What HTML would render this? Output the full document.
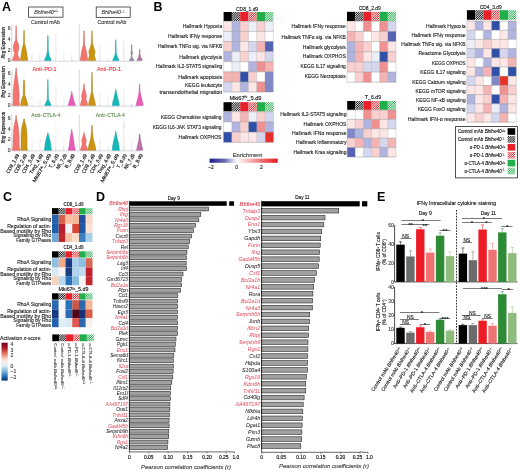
<!DOCTYPE html>
<html><head><meta charset="utf-8"><title>Figure</title>
<style>html,body{margin:0;padding:0;background:#fff;width:520px;height:471px;overflow:hidden}svg{display:block}</style>
</head><body>
<svg width="520" height="471" viewBox="0 0 520 471" font-family="'Liberation Sans', Arial, sans-serif">
<defs>
<pattern id="hk" patternUnits="userSpaceOnUse" width="1.55" height="1.55" patternTransform="rotate(45)"><rect width="1.55" height="1.55" fill="#fff"/><rect width="0.85" height="1.55" fill="#111"/></pattern>
<pattern id="hr" patternUnits="userSpaceOnUse" width="1.55" height="1.55" patternTransform="rotate(45)"><rect width="1.55" height="1.55" fill="#fff"/><rect width="0.8" height="1.55" fill="#e8202a"/></pattern>
<pattern id="hg" patternUnits="userSpaceOnUse" width="1.55" height="1.55" patternTransform="rotate(45)"><rect width="1.55" height="1.55" fill="#fff"/><rect width="0.8" height="1.55" fill="#1fae4a"/></pattern>
<linearGradient id="enr" x1="0" x2="1" y1="0" y2="0">
<stop offset="0" stop-color="#1c1c86"/><stop offset="0.22" stop-color="#6a6ab4"/><stop offset="0.4" stop-color="#ffffff"/><stop offset="0.7" stop-color="#f08a8a"/><stop offset="1" stop-color="#e3191c"/></linearGradient>
<linearGradient id="zsc" x1="0" x2="0" y1="0" y2="1">
<stop offset="0" stop-color="#67001f"/><stop offset="0.14" stop-color="#b2182b"/><stop offset="0.3" stop-color="#e58267"/><stop offset="0.45" stop-color="#fbe3d6"/><stop offset="0.6" stop-color="#e3eef5"/><stop offset="0.78" stop-color="#6aa9d0"/><stop offset="0.9" stop-color="#2369ad"/><stop offset="1" stop-color="#053061"/></linearGradient>
</defs>
<rect width="520" height="471" fill="#fff"/>
<text x="1.90" y="11.00" font-size="12.5" fill="#000" font-weight="bold">A</text>
<rect x="28.60" y="7.00" width="34.40" height="10.20" fill="#fff" stroke="#333" stroke-width="0.8"/>
<text x="46.20" y="13.89" font-size="4.7" text-anchor="middle" fill="#333" textLength="23.80" lengthAdjust="spacingAndGlyphs" stroke="#333" stroke-width="0.06"><tspan font-style="italic">Bhlhe40</tspan><tspan font-size="2.6" dy="-1.5">+/+</tspan></text>
<rect x="96.20" y="7.00" width="34.00" height="10.40" fill="#fff" stroke="#333" stroke-width="0.8"/>
<text x="113.40" y="14.09" font-size="4.7" text-anchor="middle" fill="#333" textLength="23.80" lengthAdjust="spacingAndGlyphs" stroke="#333" stroke-width="0.06"><tspan font-style="italic">Bhlhe40</tspan><tspan font-size="2.6" dy="-1.5">&#8722;/&#8722;</tspan></text>
<line x1="11.80" y1="24.60" x2="11.80" y2="61.20" stroke="#b0b0b0" stroke-width="0.5"/>
<line x1="79.30" y1="24.60" x2="79.30" y2="61.20" stroke="#b0b0b0" stroke-width="0.5"/>
<line x1="11.80" y1="61.20" x2="78.60" y2="61.20" stroke="#b8c0d0" stroke-width="0.6"/>
<line x1="79.30" y1="61.20" x2="140.00" y2="61.20" stroke="#b8c0d0" stroke-width="0.6"/>
<text x="10.60" y="62.40" font-size="5.0" text-anchor="end" fill="#333" stroke="#333" stroke-width="0.11">0</text>
<line x1="11.00" y1="60.60" x2="11.80" y2="60.60" stroke="#999" stroke-width="0.4"/>
<text x="10.60" y="51.70" font-size="5.0" text-anchor="end" fill="#333" stroke="#333" stroke-width="0.11">2</text>
<line x1="11.00" y1="49.90" x2="11.80" y2="49.90" stroke="#999" stroke-width="0.4"/>
<text x="10.60" y="41.00" font-size="5.0" text-anchor="end" fill="#333" stroke="#333" stroke-width="0.11">4</text>
<line x1="11.00" y1="39.20" x2="11.80" y2="39.20" stroke="#999" stroke-width="0.4"/>
<text x="10.60" y="30.30" font-size="5.0" text-anchor="end" fill="#333" stroke="#333" stroke-width="0.11">6</text>
<line x1="11.00" y1="28.50" x2="11.80" y2="28.50" stroke="#999" stroke-width="0.4"/>
<text x="45.50" y="23.99" font-size="4.7" text-anchor="middle" fill="#333" textLength="29.00" lengthAdjust="spacingAndGlyphs" stroke="#333" stroke-width="0.11">Control mAb</text>
<text x="112.00" y="23.99" font-size="4.7" text-anchor="middle" fill="#333" textLength="29.00" lengthAdjust="spacingAndGlyphs" stroke="#333" stroke-width="0.11">Control mAb</text>
<text x="3.10" y="44.46" font-size="4.9" text-anchor="middle" textLength="31.50" lengthAdjust="spacingAndGlyphs" transform="rotate(-90 3.10 42.70)" stroke="#222" stroke-width="0.16"><tspan font-style="italic">Ifng</tspan> Expression</text>
<line x1="11.80" y1="69.60" x2="11.80" y2="106.20" stroke="#b0b0b0" stroke-width="0.5"/>
<line x1="79.30" y1="69.60" x2="79.30" y2="106.20" stroke="#b0b0b0" stroke-width="0.5"/>
<line x1="11.80" y1="106.20" x2="78.60" y2="106.20" stroke="#b8c0d0" stroke-width="0.6"/>
<line x1="79.30" y1="106.20" x2="140.00" y2="106.20" stroke="#b8c0d0" stroke-width="0.6"/>
<text x="10.60" y="107.40" font-size="5.0" text-anchor="end" fill="#333" stroke="#333" stroke-width="0.11">0</text>
<line x1="11.00" y1="105.60" x2="11.80" y2="105.60" stroke="#999" stroke-width="0.4"/>
<text x="10.60" y="96.70" font-size="5.0" text-anchor="end" fill="#333" stroke="#333" stroke-width="0.11">2</text>
<line x1="11.00" y1="94.90" x2="11.80" y2="94.90" stroke="#999" stroke-width="0.4"/>
<text x="10.60" y="86.00" font-size="5.0" text-anchor="end" fill="#333" stroke="#333" stroke-width="0.11">4</text>
<line x1="11.00" y1="84.20" x2="11.80" y2="84.20" stroke="#999" stroke-width="0.4"/>
<text x="10.60" y="75.30" font-size="5.0" text-anchor="end" fill="#333" stroke="#333" stroke-width="0.11">6</text>
<line x1="11.00" y1="73.50" x2="11.80" y2="73.50" stroke="#999" stroke-width="0.4"/>
<text x="44.50" y="70.79" font-size="4.7" text-anchor="middle" fill="#e8303a" textLength="24.00" lengthAdjust="spacingAndGlyphs" stroke="#e8303a" stroke-width="0.11">Anti&#8211;PD-1</text>
<text x="109.00" y="70.79" font-size="4.7" text-anchor="middle" fill="#e8303a" textLength="24.00" lengthAdjust="spacingAndGlyphs" stroke="#e8303a" stroke-width="0.11">Anti&#8211;PD-1</text>
<text x="3.10" y="83.76" font-size="4.9" text-anchor="middle" textLength="31.50" lengthAdjust="spacingAndGlyphs" transform="rotate(-90 3.10 82.00)" stroke="#222" stroke-width="0.16"><tspan font-style="italic">Ifng</tspan> Expression</text>
<line x1="11.80" y1="114.30" x2="11.80" y2="150.90" stroke="#b0b0b0" stroke-width="0.5"/>
<line x1="79.30" y1="114.30" x2="79.30" y2="150.90" stroke="#b0b0b0" stroke-width="0.5"/>
<line x1="11.80" y1="150.90" x2="78.60" y2="150.90" stroke="#b8c0d0" stroke-width="0.6"/>
<line x1="79.30" y1="150.90" x2="140.00" y2="150.90" stroke="#b8c0d0" stroke-width="0.6"/>
<text x="10.60" y="152.10" font-size="5.0" text-anchor="end" fill="#333" stroke="#333" stroke-width="0.11">0</text>
<line x1="11.00" y1="150.30" x2="11.80" y2="150.30" stroke="#999" stroke-width="0.4"/>
<text x="10.60" y="141.40" font-size="5.0" text-anchor="end" fill="#333" stroke="#333" stroke-width="0.11">2</text>
<line x1="11.00" y1="139.60" x2="11.80" y2="139.60" stroke="#999" stroke-width="0.4"/>
<text x="10.60" y="130.70" font-size="5.0" text-anchor="end" fill="#333" stroke="#333" stroke-width="0.11">4</text>
<line x1="11.00" y1="128.90" x2="11.80" y2="128.90" stroke="#999" stroke-width="0.4"/>
<text x="10.60" y="120.00" font-size="5.0" text-anchor="end" fill="#333" stroke="#333" stroke-width="0.11">6</text>
<line x1="11.00" y1="118.20" x2="11.80" y2="118.20" stroke="#999" stroke-width="0.4"/>
<text x="45.80" y="116.89" font-size="4.7" text-anchor="middle" fill="#5c8c48" textLength="29.00" lengthAdjust="spacingAndGlyphs" stroke="#5c8c48" stroke-width="0.11">Anti&#8211;CTLA-4</text>
<text x="110.30" y="116.89" font-size="4.7" text-anchor="middle" fill="#5c8c48" textLength="29.00" lengthAdjust="spacingAndGlyphs" stroke="#5c8c48" stroke-width="0.11">Anti&#8211;CTLA-4</text>
<text x="3.10" y="129.26" font-size="4.9" text-anchor="middle" textLength="31.50" lengthAdjust="spacingAndGlyphs" transform="rotate(-90 3.10 127.50)" stroke="#222" stroke-width="0.16"><tspan font-style="italic">Ifng</tspan> Expression</text>
<path d="M16.25,25.80 L16.40,30.00 L16.55,40.00 L17.60,42.00 L18.60,45.00 L18.90,48.00 L18.30,51.00 L17.50,53.50 L18.10,56.00 L19.30,58.00 L19.70,60.60 L12.50,60.60 L12.90,58.00 L14.10,56.00 L14.70,53.50 L13.90,51.00 L13.30,48.00 L13.60,45.00 L14.60,42.00 L15.65,40.00 L15.80,30.00 L15.95,25.80Z" fill="#f47470" stroke="#d0453d" stroke-width="0.4" stroke-linejoin="round"/>
<path d="M24.25,30.20 L24.45,35.00 L24.65,44.00 L25.25,46.00 L26.05,49.00 L26.55,52.00 L27.05,56.00 L27.65,59.00 L27.65,60.60 L20.45,60.60 L20.45,59.00 L21.05,56.00 L21.55,52.00 L22.05,49.00 L22.85,46.00 L23.45,44.00 L23.65,35.00 L23.85,30.20Z" fill="#cc9410" stroke="#9c7200" stroke-width="0.4" stroke-linejoin="round"/>
<line x1="32.00" y1="54.18" x2="32.00" y2="60.60" stroke="#ecd8d8" stroke-width="0.5"/>
<line x1="31.40" y1="60.30" x2="32.60" y2="60.30" stroke="#ecd8d8" stroke-width="0.6"/>
<circle cx="31.58" cy="59.54" r="0.35" fill="#b8b8b8" opacity="0.7"/>
<circle cx="31.49" cy="57.37" r="0.35" fill="#b8b8b8" opacity="0.7"/>
<line x1="39.95" y1="52.04" x2="39.95" y2="60.60" stroke="#f0cccc" stroke-width="0.5"/>
<line x1="39.35" y1="60.30" x2="40.55" y2="60.30" stroke="#f0cccc" stroke-width="0.6"/>
<circle cx="39.79" cy="57.45" r="0.35" fill="#b8b8b8" opacity="0.7"/>
<circle cx="39.96" cy="60.51" r="0.35" fill="#b8b8b8" opacity="0.7"/>
<path d="M48.05,35.50 L48.20,40.00 L48.30,50.00 L48.70,53.00 L49.40,56.00 L50.40,58.00 L51.10,59.50 L51.10,60.60 L44.70,60.60 L44.70,59.50 L45.40,58.00 L46.40,56.00 L47.10,53.00 L47.50,50.00 L47.60,40.00 L47.75,35.50Z" fill="#14b8b8" stroke="#008f94" stroke-width="0.4" stroke-linejoin="round"/>
<line x1="55.85" y1="34.39" x2="55.85" y2="60.60" stroke="#f0d0d4" stroke-width="0.5"/>
<line x1="55.25" y1="60.30" x2="56.45" y2="60.30" stroke="#f0d0d4" stroke-width="0.6"/>
<circle cx="55.77" cy="60.46" r="0.35" fill="#b8b8b8" opacity="0.7"/>
<circle cx="55.36" cy="60.23" r="0.35" fill="#b8b8b8" opacity="0.7"/>
<circle cx="56.24" cy="53.94" r="0.35" fill="#b8b8b8" opacity="0.7"/>
<circle cx="55.52" cy="59.67" r="0.35" fill="#b8b8b8" opacity="0.7"/>
<circle cx="56.39" cy="48.16" r="0.35" fill="#b8b8b8" opacity="0.7"/>
<circle cx="55.73" cy="49.72" r="0.35" fill="#b8b8b8" opacity="0.7"/>
<circle cx="55.31" cy="35.37" r="0.35" fill="#b8b8b8" opacity="0.7"/>
<circle cx="55.60" cy="40.06" r="0.35" fill="#b8b8b8" opacity="0.7"/>
<line x1="63.80" y1="53.11" x2="63.80" y2="60.60" stroke="#e4d8e4" stroke-width="0.5"/>
<line x1="63.20" y1="60.30" x2="64.40" y2="60.30" stroke="#e4d8e4" stroke-width="0.6"/>
<circle cx="63.34" cy="60.26" r="0.35" fill="#b8b8b8" opacity="0.7"/>
<circle cx="64.18" cy="59.46" r="0.35" fill="#b8b8b8" opacity="0.7"/>
<line x1="71.75" y1="54.18" x2="71.75" y2="60.60" stroke="#f0c8e0" stroke-width="0.5"/>
<line x1="71.15" y1="60.30" x2="72.35" y2="60.30" stroke="#f0c8e0" stroke-width="0.6"/>
<circle cx="71.85" cy="60.18" r="0.35" fill="#b8b8b8" opacity="0.7"/>
<circle cx="71.60" cy="57.46" r="0.35" fill="#b8b8b8" opacity="0.7"/>
<path d="M84.20,30.90 L84.40,38.00 L84.60,44.80 L85.60,48.00 L86.40,52.00 L87.00,56.00 L87.60,59.00 L87.60,60.60 L80.40,60.60 L80.40,59.00 L81.00,56.00 L81.60,52.00 L82.40,48.00 L83.40,44.80 L83.60,38.00 L83.80,30.90Z" fill="#f47470" stroke="#d0453d" stroke-width="0.4" stroke-linejoin="round"/>
<path d="M92.15,30.90 L92.35,38.00 L92.65,44.00 L93.95,48.00 L95.15,52.00 L94.35,55.00 L95.15,58.00 L95.75,60.00 L95.75,60.60 L88.15,60.60 L88.15,60.00 L88.75,58.00 L89.55,55.00 L88.75,52.00 L89.95,48.00 L91.25,44.00 L91.55,38.00 L91.75,30.90Z" fill="#cc9410" stroke="#9c7200" stroke-width="0.4" stroke-linejoin="round"/>
<line x1="99.90" y1="44.55" x2="99.90" y2="60.60" stroke="#d8d8d8" stroke-width="0.5"/>
<line x1="98.40" y1="60.30" x2="101.40" y2="60.30" stroke="#d8d8d8" stroke-width="0.6"/>
<circle cx="99.38" cy="54.47" r="0.35" fill="#b8b8b8" opacity="0.7"/>
<circle cx="99.55" cy="60.42" r="0.35" fill="#b8b8b8" opacity="0.7"/>
<circle cx="99.81" cy="51.93" r="0.35" fill="#b8b8b8" opacity="0.7"/>
<circle cx="100.00" cy="58.08" r="0.35" fill="#b8b8b8" opacity="0.7"/>
<circle cx="99.66" cy="56.08" r="0.35" fill="#b8b8b8" opacity="0.7"/>
<line x1="107.85" y1="57.93" x2="107.85" y2="60.60" stroke="#e0e0e0" stroke-width="0.5"/>
<line x1="106.35" y1="60.30" x2="109.35" y2="60.30" stroke="#e0e0e0" stroke-width="0.6"/>
<circle cx="108.09" cy="58.75" r="0.35" fill="#b8b8b8" opacity="0.7"/>
<circle cx="107.94" cy="60.32" r="0.35" fill="#b8b8b8" opacity="0.7"/>
<path d="M115.95,39.80 L116.10,46.00 L116.30,53.00 L117.00,56.00 L118.20,58.50 L119.00,60.60 L112.60,60.60 L113.40,58.50 L114.60,56.00 L115.30,53.00 L115.50,46.00 L115.65,39.80Z" fill="#14b8b8" stroke="#008f94" stroke-width="0.4" stroke-linejoin="round"/>
<line x1="123.75" y1="40.27" x2="123.75" y2="60.60" stroke="#f4b8b8" stroke-width="0.5"/>
<circle cx="124.20" cy="53.34" r="0.35" fill="#b8b8b8" opacity="0.7"/>
<circle cx="123.50" cy="48.33" r="0.35" fill="#b8b8b8" opacity="0.7"/>
<circle cx="123.29" cy="40.91" r="0.35" fill="#b8b8b8" opacity="0.7"/>
<circle cx="124.06" cy="55.56" r="0.35" fill="#b8b8b8" opacity="0.7"/>
<circle cx="123.74" cy="59.60" r="0.35" fill="#b8b8b8" opacity="0.7"/>
<circle cx="123.95" cy="60.49" r="0.35" fill="#b8b8b8" opacity="0.7"/>
<path d="M131.90,44.80 L132.00,51.00 L132.60,53.00 L132.00,55.00 L132.30,58.00 L133.70,59.50 L133.90,60.60 L129.50,60.60 L129.70,59.50 L131.10,58.00 L131.40,55.00 L130.80,53.00 L131.40,51.00 L131.50,44.80Z" fill="#9a88a8" stroke="#6a5a7a" stroke-width="0.4" stroke-linejoin="round"/>
<path d="M139.85,49.30 L140.05,54.00 L140.65,57.00 L142.05,59.50 L142.15,60.60 L137.15,60.60 L137.25,59.50 L138.65,57.00 L139.25,54.00 L139.45,49.30Z" fill="#b07aa0" stroke="#805070" stroke-width="0.4" stroke-linejoin="round"/>
<path d="M16.25,68.00 L16.60,72.00 L17.30,77.50 L18.10,83.00 L18.70,88.00 L19.10,95.00 L18.90,101.00 L19.40,104.40 L19.40,105.60 L12.80,105.60 L12.80,104.40 L13.30,101.00 L13.10,95.00 L13.50,88.00 L14.10,83.00 L14.90,77.50 L15.60,72.00 L15.95,68.00Z" fill="#f47470" stroke="#d0453d" stroke-width="0.4" stroke-linejoin="round"/>
<path d="M24.45,79.90 L24.75,85.00 L24.85,95.00 L25.65,97.00 L26.55,100.00 L27.55,104.00 L27.55,105.60 L20.55,105.60 L20.55,104.00 L21.55,100.00 L22.45,97.00 L23.25,95.00 L23.35,85.00 L23.65,79.90Z" fill="#cc9410" stroke="#9c7200" stroke-width="0.4" stroke-linejoin="round"/>
<line x1="32.00" y1="97.00" x2="32.00" y2="105.60" stroke="#ecdcd0" stroke-width="0.5"/>
<line x1="31.40" y1="105.30" x2="32.60" y2="105.30" stroke="#ecdcd0" stroke-width="0.6"/>
<circle cx="32.09" cy="100.00" r="0.35" fill="#b8b8b8" opacity="0.7"/>
<circle cx="31.78" cy="98.65" r="0.35" fill="#b8b8b8" opacity="0.7"/>
<line x1="39.95" y1="100.00" x2="39.95" y2="105.60" stroke="#f0d4d4" stroke-width="0.5"/>
<line x1="39.35" y1="105.30" x2="40.55" y2="105.30" stroke="#f0d4d4" stroke-width="0.6"/>
<circle cx="40.06" cy="102.47" r="0.35" fill="#b8b8b8" opacity="0.7"/>
<circle cx="39.90" cy="103.26" r="0.35" fill="#b8b8b8" opacity="0.7"/>
<path d="M48.05,79.50 L48.20,88.00 L48.40,99.00 L49.10,101.00 L50.10,103.00 L50.90,104.80 L50.90,105.60 L44.90,105.60 L44.90,104.80 L45.70,103.00 L46.70,101.00 L47.40,99.00 L47.60,88.00 L47.75,79.50Z" fill="#14b8b8" stroke="#008f94" stroke-width="0.4" stroke-linejoin="round"/>
<line x1="55.85" y1="86.20" x2="55.85" y2="105.60" stroke="#ecdcdc" stroke-width="0.5"/>
<line x1="55.25" y1="105.30" x2="56.45" y2="105.30" stroke="#ecdcdc" stroke-width="0.6"/>
<circle cx="56.38" cy="90.92" r="0.35" fill="#b8b8b8" opacity="0.7"/>
<circle cx="56.05" cy="99.72" r="0.35" fill="#b8b8b8" opacity="0.7"/>
<circle cx="56.09" cy="105.38" r="0.35" fill="#b8b8b8" opacity="0.7"/>
<circle cx="56.44" cy="95.93" r="0.35" fill="#b8b8b8" opacity="0.7"/>
<circle cx="55.59" cy="91.42" r="0.35" fill="#b8b8b8" opacity="0.7"/>
<circle cx="56.05" cy="101.37" r="0.35" fill="#b8b8b8" opacity="0.7"/>
<line x1="63.80" y1="98.30" x2="63.80" y2="105.60" stroke="#e8dce8" stroke-width="0.5"/>
<line x1="63.20" y1="105.30" x2="64.40" y2="105.30" stroke="#e8dce8" stroke-width="0.6"/>
<circle cx="63.75" cy="105.58" r="0.35" fill="#b8b8b8" opacity="0.7"/>
<circle cx="63.34" cy="105.18" r="0.35" fill="#b8b8b8" opacity="0.7"/>
<path d="M71.95,91.60 L72.25,94.00 L72.95,97.00 L73.75,100.00 L74.55,102.50 L75.25,104.80 L75.25,105.60 L68.25,105.60 L68.25,104.80 L68.95,102.50 L69.75,100.00 L70.55,97.00 L71.25,94.00 L71.55,91.60Z" fill="#e85cb4" stroke="#c83c9c" stroke-width="0.4" stroke-linejoin="round"/>
<path d="M84.20,83.70 L84.50,88.00 L85.50,92.00 L86.50,96.00 L85.80,99.00 L87.00,102.00 L87.50,104.80 L87.50,105.60 L80.50,105.60 L80.50,104.80 L81.00,102.00 L82.20,99.00 L81.50,96.00 L82.50,92.00 L83.50,88.00 L83.80,83.70Z" fill="#f47470" stroke="#d0453d" stroke-width="0.4" stroke-linejoin="round"/>
<path d="M92.15,72.20 L92.35,80.00 L92.55,92.00 L93.45,96.00 L94.45,100.00 L95.45,104.50 L95.45,105.60 L88.45,105.60 L88.45,104.50 L89.45,100.00 L90.45,96.00 L91.35,92.00 L91.55,80.00 L91.75,72.20Z" fill="#cc9410" stroke="#9c7200" stroke-width="0.4" stroke-linejoin="round"/>
<line x1="99.90" y1="93.20" x2="99.90" y2="105.60" stroke="#dcdcdc" stroke-width="0.5"/>
<line x1="98.70" y1="105.30" x2="101.10" y2="105.30" stroke="#dcdcdc" stroke-width="0.6"/>
<circle cx="100.22" cy="105.47" r="0.35" fill="#b8b8b8" opacity="0.7"/>
<circle cx="99.60" cy="105.13" r="0.35" fill="#b8b8b8" opacity="0.7"/>
<circle cx="100.35" cy="102.84" r="0.35" fill="#b8b8b8" opacity="0.7"/>
<circle cx="99.84" cy="105.38" r="0.35" fill="#b8b8b8" opacity="0.7"/>
<line x1="107.85" y1="96.40" x2="107.85" y2="105.60" stroke="#e4e4e4" stroke-width="0.5"/>
<line x1="106.65" y1="105.30" x2="109.05" y2="105.30" stroke="#e4e4e4" stroke-width="0.6"/>
<circle cx="108.31" cy="102.07" r="0.35" fill="#b8b8b8" opacity="0.7"/>
<circle cx="108.29" cy="98.91" r="0.35" fill="#b8b8b8" opacity="0.7"/>
<circle cx="107.75" cy="104.41" r="0.35" fill="#b8b8b8" opacity="0.7"/>
<path d="M116.00,89.40 L116.30,92.00 L117.00,95.00 L117.80,98.50 L118.80,102.00 L119.30,104.80 L119.30,105.60 L112.30,105.60 L112.30,104.80 L112.80,102.00 L113.80,98.50 L114.60,95.00 L115.30,92.00 L115.60,89.40Z" fill="#14b8b8" stroke="#008f94" stroke-width="0.4" stroke-linejoin="round"/>
<line x1="123.75" y1="90.00" x2="123.75" y2="105.60" stroke="#e4d8d8" stroke-width="0.5"/>
<line x1="122.95" y1="105.30" x2="124.55" y2="105.30" stroke="#e4d8d8" stroke-width="0.6"/>
<circle cx="124.21" cy="102.57" r="0.35" fill="#b8b8b8" opacity="0.7"/>
<circle cx="123.33" cy="91.04" r="0.35" fill="#b8b8b8" opacity="0.7"/>
<circle cx="123.43" cy="104.63" r="0.35" fill="#b8b8b8" opacity="0.7"/>
<circle cx="123.73" cy="104.08" r="0.35" fill="#b8b8b8" opacity="0.7"/>
<circle cx="123.47" cy="98.91" r="0.35" fill="#b8b8b8" opacity="0.7"/>
<line x1="131.70" y1="103.46" x2="131.70" y2="105.60" stroke="#e0d0e0" stroke-width="0.5"/>
<line x1="130.50" y1="105.30" x2="132.90" y2="105.30" stroke="#e0d0e0" stroke-width="0.6"/>
<circle cx="131.60" cy="105.60" r="0.35" fill="#b8b8b8" opacity="0.7"/>
<circle cx="131.78" cy="105.17" r="0.35" fill="#b8b8b8" opacity="0.7"/>
<path d="M139.85,84.30 L140.15,92.00 L141.05,96.00 L142.05,100.00 L143.15,104.80 L143.15,105.60 L136.15,105.60 L136.15,104.80 L137.25,100.00 L138.25,96.00 L139.15,92.00 L139.45,84.30Z" fill="#e85cb4" stroke="#c83c9c" stroke-width="0.4" stroke-linejoin="round"/>
<path d="M16.30,115.40 L16.55,118.50 L17.30,122.00 L18.10,126.00 L18.70,131.00 L19.10,140.00 L19.10,145.00 L19.60,149.00 L19.60,150.30 L12.60,150.30 L12.60,149.00 L13.10,145.00 L13.10,140.00 L13.50,131.00 L14.10,126.00 L14.90,122.00 L15.65,118.50 L15.90,115.40Z" fill="#f47470" stroke="#d0453d" stroke-width="0.4" stroke-linejoin="round"/>
<path d="M24.30,118.80 L24.65,121.00 L25.55,124.00 L26.45,128.00 L27.05,135.00 L27.05,148.00 L27.55,149.50 L27.55,150.30 L20.55,150.30 L20.55,149.50 L21.05,148.00 L21.05,135.00 L21.65,128.00 L22.55,124.00 L23.45,121.00 L23.80,118.80Z" fill="#cc9410" stroke="#9c7200" stroke-width="0.4" stroke-linejoin="round"/>
<line x1="32.00" y1="139.00" x2="32.00" y2="150.30" stroke="#d8e4ec" stroke-width="0.5"/>
<line x1="31.40" y1="150.00" x2="32.60" y2="150.00" stroke="#d8e4ec" stroke-width="0.6"/>
<circle cx="32.23" cy="139.84" r="0.35" fill="#b8b8b8" opacity="0.7"/>
<circle cx="32.14" cy="146.39" r="0.35" fill="#b8b8b8" opacity="0.7"/>
<circle cx="31.46" cy="144.26" r="0.35" fill="#b8b8b8" opacity="0.7"/>
<line x1="39.95" y1="139.00" x2="39.95" y2="150.30" stroke="#f0d8d0" stroke-width="0.5"/>
<line x1="39.35" y1="150.00" x2="40.55" y2="150.00" stroke="#f0d8d0" stroke-width="0.6"/>
<circle cx="40.29" cy="140.76" r="0.35" fill="#b8b8b8" opacity="0.7"/>
<circle cx="40.31" cy="141.18" r="0.35" fill="#b8b8b8" opacity="0.7"/>
<circle cx="39.83" cy="147.77" r="0.35" fill="#b8b8b8" opacity="0.7"/>
<path d="M48.10,132.90 L48.50,135.00 L49.40,138.00 L50.40,142.00 L50.90,146.00 L51.40,149.50 L51.40,150.30 L44.40,150.30 L44.40,149.50 L44.90,146.00 L45.40,142.00 L46.40,138.00 L47.30,135.00 L47.70,132.90Z" fill="#14b8b8" stroke="#008f94" stroke-width="0.4" stroke-linejoin="round"/>
<line x1="55.85" y1="122.00" x2="55.85" y2="150.30" stroke="#e8e0e0" stroke-width="0.5"/>
<line x1="55.25" y1="150.00" x2="56.45" y2="150.00" stroke="#e8e0e0" stroke-width="0.6"/>
<circle cx="56.01" cy="149.55" r="0.35" fill="#b8b8b8" opacity="0.7"/>
<circle cx="55.33" cy="149.97" r="0.35" fill="#b8b8b8" opacity="0.7"/>
<circle cx="55.44" cy="147.99" r="0.35" fill="#b8b8b8" opacity="0.7"/>
<circle cx="55.31" cy="145.26" r="0.35" fill="#b8b8b8" opacity="0.7"/>
<circle cx="55.43" cy="150.30" r="0.35" fill="#b8b8b8" opacity="0.7"/>
<circle cx="55.69" cy="149.57" r="0.35" fill="#b8b8b8" opacity="0.7"/>
<circle cx="56.30" cy="150.22" r="0.35" fill="#b8b8b8" opacity="0.7"/>
<circle cx="55.43" cy="137.33" r="0.35" fill="#b8b8b8" opacity="0.7"/>
<circle cx="55.67" cy="147.18" r="0.35" fill="#b8b8b8" opacity="0.7"/>
<line x1="63.80" y1="138.00" x2="63.80" y2="150.30" stroke="#e8dce8" stroke-width="0.5"/>
<line x1="63.20" y1="150.00" x2="64.40" y2="150.00" stroke="#e8dce8" stroke-width="0.6"/>
<circle cx="63.35" cy="147.86" r="0.35" fill="#b8b8b8" opacity="0.7"/>
<circle cx="64.39" cy="140.84" r="0.35" fill="#b8b8b8" opacity="0.7"/>
<circle cx="63.78" cy="146.68" r="0.35" fill="#b8b8b8" opacity="0.7"/>
<circle cx="63.32" cy="150.06" r="0.35" fill="#b8b8b8" opacity="0.7"/>
<path d="M71.95,129.50 L72.25,132.00 L72.95,136.00 L73.75,141.00 L74.35,146.00 L75.25,149.50 L75.25,150.30 L68.25,150.30 L68.25,149.50 L69.15,146.00 L69.75,141.00 L70.55,136.00 L71.25,132.00 L71.55,129.50Z" fill="#e85cb4" stroke="#c83c9c" stroke-width="0.4" stroke-linejoin="round"/>
<path d="M84.20,132.70 L84.60,135.00 L85.60,138.00 L86.40,140.50 L85.60,144.00 L86.60,147.00 L87.60,149.50 L87.60,150.30 L80.40,150.30 L80.40,149.50 L81.40,147.00 L82.40,144.00 L81.60,140.50 L82.40,138.00 L83.40,135.00 L83.80,132.70Z" fill="#f47470" stroke="#d0453d" stroke-width="0.4" stroke-linejoin="round"/>
<path d="M92.15,125.10 L92.55,132.00 L93.15,138.00 L94.15,142.00 L94.95,145.00 L95.95,149.50 L95.95,150.30 L87.95,150.30 L87.95,149.50 L88.95,145.00 L89.75,142.00 L90.75,138.00 L91.35,132.00 L91.75,125.10Z" fill="#cc9410" stroke="#9c7200" stroke-width="0.4" stroke-linejoin="round"/>
<line x1="99.90" y1="137.80" x2="99.90" y2="150.30" stroke="#dcdcdc" stroke-width="0.5"/>
<line x1="98.70" y1="150.00" x2="101.10" y2="150.00" stroke="#dcdcdc" stroke-width="0.6"/>
<circle cx="99.62" cy="148.05" r="0.35" fill="#b8b8b8" opacity="0.7"/>
<circle cx="99.49" cy="141.04" r="0.35" fill="#b8b8b8" opacity="0.7"/>
<circle cx="100.44" cy="150.27" r="0.35" fill="#b8b8b8" opacity="0.7"/>
<circle cx="99.48" cy="145.80" r="0.35" fill="#b8b8b8" opacity="0.7"/>
<line x1="107.85" y1="147.09" x2="107.85" y2="150.30" stroke="#e0e0e0" stroke-width="0.5"/>
<line x1="106.65" y1="150.00" x2="109.05" y2="150.00" stroke="#e0e0e0" stroke-width="0.6"/>
<circle cx="107.28" cy="149.09" r="0.35" fill="#b8b8b8" opacity="0.7"/>
<circle cx="108.42" cy="149.14" r="0.35" fill="#b8b8b8" opacity="0.7"/>
<path d="M116.00,131.50 L116.30,134.00 L116.90,137.00 L118.00,141.00 L119.00,146.00 L119.30,149.50 L119.30,150.30 L112.30,150.30 L112.30,149.50 L112.60,146.00 L113.60,141.00 L114.70,137.00 L115.30,134.00 L115.60,131.50Z" fill="#14b8b8" stroke="#008f94" stroke-width="0.4" stroke-linejoin="round"/>
<line x1="123.75" y1="118.80" x2="123.75" y2="150.30" stroke="#f0c8c8" stroke-width="0.5"/>
<line x1="122.95" y1="150.00" x2="124.55" y2="150.00" stroke="#f0c8c8" stroke-width="0.6"/>
<circle cx="123.99" cy="125.40" r="0.35" fill="#b8b8b8" opacity="0.7"/>
<circle cx="123.59" cy="146.63" r="0.35" fill="#b8b8b8" opacity="0.7"/>
<circle cx="124.08" cy="148.50" r="0.35" fill="#b8b8b8" opacity="0.7"/>
<circle cx="124.08" cy="138.80" r="0.35" fill="#b8b8b8" opacity="0.7"/>
<circle cx="123.42" cy="144.96" r="0.35" fill="#b8b8b8" opacity="0.7"/>
<circle cx="124.33" cy="127.75" r="0.35" fill="#b8b8b8" opacity="0.7"/>
<circle cx="124.12" cy="125.89" r="0.35" fill="#b8b8b8" opacity="0.7"/>
<circle cx="124.04" cy="127.44" r="0.35" fill="#b8b8b8" opacity="0.7"/>
<circle cx="123.77" cy="147.37" r="0.35" fill="#b8b8b8" opacity="0.7"/>
<circle cx="123.18" cy="144.28" r="0.35" fill="#b8b8b8" opacity="0.7"/>
<line x1="131.70" y1="141.00" x2="131.70" y2="150.30" stroke="#e0d0e0" stroke-width="0.5"/>
<line x1="130.70" y1="150.00" x2="132.70" y2="150.00" stroke="#e0d0e0" stroke-width="0.6"/>
<circle cx="131.44" cy="150.27" r="0.35" fill="#b8b8b8" opacity="0.7"/>
<circle cx="131.93" cy="149.23" r="0.35" fill="#b8b8b8" opacity="0.7"/>
<circle cx="131.64" cy="141.64" r="0.35" fill="#b8b8b8" opacity="0.7"/>
<path d="M139.85,134.00 L140.45,140.00 L141.65,145.00 L142.65,149.50 L142.65,150.30 L136.65,150.30 L136.65,149.50 L137.65,145.00 L138.85,140.00 L139.45,134.00Z" fill="#c070a8" stroke="#904070" stroke-width="0.4" stroke-linejoin="round"/>
<text x="17.90" y="156.00" font-size="5.0" text-anchor="end" textLength="21.50" lengthAdjust="spacingAndGlyphs" transform="rotate(-60 17.90 154.20)" stroke="#222" stroke-width="0.14">CD8_1.d9</text>
<text x="25.85" y="156.00" font-size="5.0" text-anchor="end" textLength="21.50" lengthAdjust="spacingAndGlyphs" transform="rotate(-60 25.85 154.20)" stroke="#222" stroke-width="0.14">CD8_2.d9</text>
<text x="33.80" y="156.00" font-size="5.0" text-anchor="end" textLength="21.50" lengthAdjust="spacingAndGlyphs" transform="rotate(-60 33.80 154.20)" stroke="#222" stroke-width="0.14">CD4_3.d9</text>
<text x="41.75" y="156.00" font-size="5.0" text-anchor="end" textLength="22.00" lengthAdjust="spacingAndGlyphs" transform="rotate(-60 41.75 154.20)" stroke="#222" stroke-width="0.14">Treg_4.d9</text>
<text x="49.70" y="156.00" font-size="5.0" text-anchor="end" textLength="32.00" lengthAdjust="spacingAndGlyphs" transform="rotate(-60 49.70 154.20)" stroke="#222" stroke-width="0.14">Mki67<tspan font-size="2.8" dy="-1.3">hi</tspan><tspan dy="1.3">_5.d9</tspan></text>
<text x="57.65" y="156.00" font-size="5.0" text-anchor="end" textLength="15.50" lengthAdjust="spacingAndGlyphs" transform="rotate(-60 57.65 154.20)" stroke="#222" stroke-width="0.14">T_6.d9</text>
<text x="65.60" y="156.00" font-size="5.0" text-anchor="end" textLength="17.00" lengthAdjust="spacingAndGlyphs" transform="rotate(-60 65.60 154.20)" stroke="#222" stroke-width="0.14">NK_7.d9</text>
<text x="73.55" y="156.00" font-size="5.0" text-anchor="end" textLength="15.50" lengthAdjust="spacingAndGlyphs" transform="rotate(-60 73.55 154.20)" stroke="#222" stroke-width="0.14">B_8.d9</text>
<text x="85.80" y="156.00" font-size="5.0" text-anchor="end" textLength="21.50" lengthAdjust="spacingAndGlyphs" transform="rotate(-60 85.80 154.20)" stroke="#222" stroke-width="0.14">CD8_1.d9</text>
<text x="93.75" y="156.00" font-size="5.0" text-anchor="end" textLength="21.50" lengthAdjust="spacingAndGlyphs" transform="rotate(-60 93.75 154.20)" stroke="#222" stroke-width="0.14">CD8_2.d9</text>
<text x="101.70" y="156.00" font-size="5.0" text-anchor="end" textLength="21.50" lengthAdjust="spacingAndGlyphs" transform="rotate(-60 101.70 154.20)" stroke="#222" stroke-width="0.14">CD4_3.d9</text>
<text x="109.65" y="156.00" font-size="5.0" text-anchor="end" textLength="22.00" lengthAdjust="spacingAndGlyphs" transform="rotate(-60 109.65 154.20)" stroke="#222" stroke-width="0.14">Treg_4.d9</text>
<text x="117.60" y="156.00" font-size="5.0" text-anchor="end" textLength="32.00" lengthAdjust="spacingAndGlyphs" transform="rotate(-60 117.60 154.20)" stroke="#222" stroke-width="0.14">Mki67<tspan font-size="2.8" dy="-1.3">hi</tspan><tspan dy="1.3">_5.d9</tspan></text>
<text x="125.55" y="156.00" font-size="5.0" text-anchor="end" textLength="15.50" lengthAdjust="spacingAndGlyphs" transform="rotate(-60 125.55 154.20)" stroke="#222" stroke-width="0.14">T_6.d9</text>
<text x="133.50" y="156.00" font-size="5.0" text-anchor="end" textLength="17.00" lengthAdjust="spacingAndGlyphs" transform="rotate(-60 133.50 154.20)" stroke="#222" stroke-width="0.14">NK_7.d9</text>
<text x="141.45" y="156.00" font-size="5.0" text-anchor="end" textLength="15.50" lengthAdjust="spacingAndGlyphs" transform="rotate(-60 141.45 154.20)" stroke="#222" stroke-width="0.14">B_8.d9</text>
<text x="153.60" y="10.80" font-size="12.5" fill="#000" font-weight="bold">B</text>
<text x="247.10" y="10.71" font-size="5.3" text-anchor="middle" textLength="22.00" lengthAdjust="spacingAndGlyphs" stroke="#222" stroke-width="0.11">CD8_1.d9</text>
<rect x="223.60" y="12.00" width="8.28" height="9.00" fill="#000"/>
<rect x="231.88" y="12.00" width="8.28" height="9.00" fill="url(#hk)"/>
<rect x="240.17" y="12.00" width="8.28" height="9.00" fill="#e8202a"/>
<rect x="248.45" y="12.00" width="8.28" height="9.00" fill="url(#hr)"/>
<rect x="256.73" y="12.00" width="8.28" height="9.00" fill="#1fae4a"/>
<rect x="265.02" y="12.00" width="8.28" height="9.00" fill="url(#hg)"/>
<rect x="223.60" y="21.30" width="8.28" height="10.10" fill="#fce6e6"/>
<rect x="231.88" y="21.30" width="8.28" height="10.10" fill="#b0b4de"/>
<rect x="240.17" y="21.30" width="8.28" height="10.10" fill="#f9d0d0"/>
<rect x="248.45" y="21.30" width="8.28" height="10.10" fill="#eceef8"/>
<rect x="256.73" y="21.30" width="8.28" height="10.10" fill="#f9d0d0"/>
<rect x="265.02" y="21.30" width="8.28" height="10.10" fill="#eceef8"/>
<rect x="223.60" y="31.40" width="8.28" height="10.10" fill="#eceef8"/>
<rect x="231.88" y="31.40" width="8.28" height="10.10" fill="#b0b4de"/>
<rect x="240.17" y="31.40" width="8.28" height="10.10" fill="#f9d0d0"/>
<rect x="248.45" y="31.40" width="8.28" height="10.10" fill="#ffffff"/>
<rect x="256.73" y="31.40" width="8.28" height="10.10" fill="#fce6e6"/>
<rect x="265.02" y="31.40" width="8.28" height="10.10" fill="#ffffff"/>
<rect x="223.60" y="41.50" width="8.28" height="10.10" fill="#f9d0d0"/>
<rect x="231.88" y="41.50" width="8.28" height="10.10" fill="#b0b4de"/>
<rect x="240.17" y="41.50" width="8.28" height="10.10" fill="#fce6e6"/>
<rect x="248.45" y="41.50" width="8.28" height="10.10" fill="#d4d7ee"/>
<rect x="256.73" y="41.50" width="8.28" height="10.10" fill="#f5b4b4"/>
<rect x="265.02" y="41.50" width="8.28" height="10.10" fill="#5662b4"/>
<rect x="223.60" y="51.60" width="8.28" height="10.10" fill="#b0b4de"/>
<rect x="231.88" y="51.60" width="8.28" height="10.10" fill="#eceef8"/>
<rect x="240.17" y="51.60" width="8.28" height="10.10" fill="#f9d0d0"/>
<rect x="248.45" y="51.60" width="8.28" height="10.10" fill="#eceef8"/>
<rect x="256.73" y="51.60" width="8.28" height="10.10" fill="#fce6e6"/>
<rect x="265.02" y="51.60" width="8.28" height="10.10" fill="#d4d7ee"/>
<rect x="223.60" y="61.70" width="8.28" height="10.10" fill="#ffffff"/>
<rect x="231.88" y="61.70" width="8.28" height="10.10" fill="#eceef8"/>
<rect x="240.17" y="61.70" width="8.28" height="10.10" fill="#ffffff"/>
<rect x="248.45" y="61.70" width="8.28" height="10.10" fill="#b0b4de"/>
<rect x="256.73" y="61.70" width="8.28" height="10.10" fill="#f09090"/>
<rect x="265.02" y="61.70" width="8.28" height="10.10" fill="#f5b4b4"/>
<rect x="223.60" y="71.80" width="8.28" height="10.10" fill="#f5b4b4"/>
<rect x="231.88" y="71.80" width="8.28" height="10.10" fill="#f5b4b4"/>
<rect x="240.17" y="71.80" width="8.28" height="10.10" fill="#3050a8"/>
<rect x="248.45" y="71.80" width="8.28" height="10.10" fill="#f9d0d0"/>
<rect x="256.73" y="71.80" width="8.28" height="10.10" fill="#ffffff"/>
<rect x="265.02" y="71.80" width="8.28" height="10.10" fill="#8088c8"/>
<rect x="223.60" y="81.90" width="8.28" height="10.10" fill="#d4d7ee"/>
<rect x="231.88" y="81.90" width="8.28" height="10.10" fill="#fce6e6"/>
<rect x="240.17" y="81.90" width="8.28" height="10.10" fill="#b0b4de"/>
<rect x="248.45" y="81.90" width="8.28" height="10.10" fill="#fce6e6"/>
<rect x="256.73" y="81.90" width="8.28" height="10.10" fill="#f09090"/>
<rect x="265.02" y="81.90" width="8.28" height="10.10" fill="#8088c8"/>
<line x1="223.60" y1="21.30" x2="273.30" y2="21.30" stroke="#8a8a8a" stroke-width="0.45"/>
<line x1="223.60" y1="31.40" x2="273.30" y2="31.40" stroke="#8a8a8a" stroke-width="0.45"/>
<line x1="223.60" y1="41.50" x2="273.30" y2="41.50" stroke="#8a8a8a" stroke-width="0.45"/>
<line x1="223.60" y1="51.60" x2="273.30" y2="51.60" stroke="#8a8a8a" stroke-width="0.45"/>
<line x1="223.60" y1="61.70" x2="273.30" y2="61.70" stroke="#8a8a8a" stroke-width="0.45"/>
<line x1="223.60" y1="71.80" x2="273.30" y2="71.80" stroke="#8a8a8a" stroke-width="0.45"/>
<line x1="223.60" y1="81.90" x2="273.30" y2="81.90" stroke="#8a8a8a" stroke-width="0.45"/>
<line x1="223.60" y1="92.00" x2="273.30" y2="92.00" stroke="#8a8a8a" stroke-width="0.45"/>
<line x1="223.60" y1="21.30" x2="223.60" y2="92.00" stroke="#a0a0a0" stroke-width="0.35"/>
<line x1="231.88" y1="21.30" x2="231.88" y2="92.00" stroke="#a0a0a0" stroke-width="0.35"/>
<line x1="240.17" y1="21.30" x2="240.17" y2="92.00" stroke="#a0a0a0" stroke-width="0.35"/>
<line x1="248.45" y1="21.30" x2="248.45" y2="92.00" stroke="#a0a0a0" stroke-width="0.35"/>
<line x1="256.73" y1="21.30" x2="256.73" y2="92.00" stroke="#a0a0a0" stroke-width="0.35"/>
<line x1="265.02" y1="21.30" x2="265.02" y2="92.00" stroke="#a0a0a0" stroke-width="0.35"/>
<line x1="273.30" y1="21.30" x2="273.30" y2="92.00" stroke="#a0a0a0" stroke-width="0.35"/>
<text x="222.30" y="28.06" font-size="4.9" text-anchor="end" fill="#1a1a1a" textLength="39.57" lengthAdjust="spacingAndGlyphs" stroke="#1a1a1a" stroke-width="0.11">Hallmark Hypoxia</text>
<text x="222.30" y="37.96" font-size="4.9" text-anchor="end" fill="#1a1a1a" textLength="54.16" lengthAdjust="spacingAndGlyphs" stroke="#1a1a1a" stroke-width="0.11">Hallmark IFN&#947; response</text>
<text x="222.30" y="48.46" font-size="4.9" text-anchor="end" fill="#1a1a1a" textLength="64.26" lengthAdjust="spacingAndGlyphs" stroke="#1a1a1a" stroke-width="0.11">Hallmark TNF&#945; sig. via NFKB</text>
<text x="222.30" y="58.76" font-size="4.9" text-anchor="end" fill="#1a1a1a" textLength="42.93" lengthAdjust="spacingAndGlyphs" stroke="#1a1a1a" stroke-width="0.11">Hallmark glycolysis</text>
<text x="222.30" y="68.36" font-size="4.9" text-anchor="end" fill="#1a1a1a" textLength="66.32" lengthAdjust="spacingAndGlyphs" stroke="#1a1a1a" stroke-width="0.11">Hallmark IL2-STAT5 signaling</text>
<text x="222.30" y="79.36" font-size="4.9" text-anchor="end" fill="#1a1a1a" textLength="44.10" lengthAdjust="spacingAndGlyphs" stroke="#1a1a1a" stroke-width="0.11">Hallmark apoptosis</text>
<text x="222.30" y="86.76" font-size="4.9" text-anchor="end" fill="#1a1a1a" textLength="37.30" lengthAdjust="spacingAndGlyphs" stroke="#1a1a1a" stroke-width="0.11">KEGG leukocyte</text>
<text x="222.30" y="93.76" font-size="4.9" text-anchor="end" fill="#1a1a1a" textLength="62.80" lengthAdjust="spacingAndGlyphs" stroke="#1a1a1a" stroke-width="0.11">transendothelial migration</text>
<text x="245.50" y="99.51" font-size="5.3" text-anchor="middle" textLength="32.00" lengthAdjust="spacingAndGlyphs" stroke="#222" stroke-width="0.11">Mki67<tspan font-size="3.2" dy="-1.6">hi</tspan><tspan dy="1.6">_5.d9</tspan></text>
<rect x="223.50" y="102.20" width="8.35" height="9.20" fill="#000"/>
<rect x="231.85" y="102.20" width="8.35" height="9.20" fill="url(#hk)"/>
<rect x="240.20" y="102.20" width="8.35" height="9.20" fill="#e8202a"/>
<rect x="248.55" y="102.20" width="8.35" height="9.20" fill="url(#hr)"/>
<rect x="256.90" y="102.20" width="8.35" height="9.20" fill="#1fae4a"/>
<rect x="265.25" y="102.20" width="8.35" height="9.20" fill="url(#hg)"/>
<rect x="223.50" y="111.70" width="8.35" height="10.20" fill="#b0b4de"/>
<rect x="231.85" y="111.70" width="8.35" height="10.20" fill="#fce6e6"/>
<rect x="240.20" y="111.70" width="8.35" height="10.20" fill="#f5b4b4"/>
<rect x="248.55" y="111.70" width="8.35" height="10.20" fill="#eceef8"/>
<rect x="256.90" y="111.70" width="8.35" height="10.20" fill="#f9d0d0"/>
<rect x="265.25" y="111.70" width="8.35" height="10.20" fill="#d4d7ee"/>
<rect x="223.50" y="121.90" width="8.35" height="10.20" fill="#ffffff"/>
<rect x="231.85" y="121.90" width="8.35" height="10.20" fill="#b0b4de"/>
<rect x="240.20" y="121.90" width="8.35" height="10.20" fill="#f9d0d0"/>
<rect x="248.55" y="121.90" width="8.35" height="10.20" fill="#3050a8"/>
<rect x="256.90" y="121.90" width="8.35" height="10.20" fill="#f09090"/>
<rect x="265.25" y="121.90" width="8.35" height="10.20" fill="#b0b4de"/>
<rect x="223.50" y="132.10" width="8.35" height="10.20" fill="#3050a8"/>
<rect x="231.85" y="132.10" width="8.35" height="10.20" fill="#f9d0d0"/>
<rect x="240.20" y="132.10" width="8.35" height="10.20" fill="#fce6e6"/>
<rect x="248.55" y="132.10" width="8.35" height="10.20" fill="#fce6e6"/>
<rect x="256.90" y="132.10" width="8.35" height="10.20" fill="#d4d7ee"/>
<rect x="265.25" y="132.10" width="8.35" height="10.20" fill="#e8302a"/>
<line x1="223.50" y1="111.70" x2="273.60" y2="111.70" stroke="#8a8a8a" stroke-width="0.45"/>
<line x1="223.50" y1="121.90" x2="273.60" y2="121.90" stroke="#8a8a8a" stroke-width="0.45"/>
<line x1="223.50" y1="132.10" x2="273.60" y2="132.10" stroke="#8a8a8a" stroke-width="0.45"/>
<line x1="223.50" y1="142.30" x2="273.60" y2="142.30" stroke="#8a8a8a" stroke-width="0.45"/>
<line x1="223.50" y1="111.70" x2="223.50" y2="142.30" stroke="#a0a0a0" stroke-width="0.35"/>
<line x1="231.85" y1="111.70" x2="231.85" y2="142.30" stroke="#a0a0a0" stroke-width="0.35"/>
<line x1="240.20" y1="111.70" x2="240.20" y2="142.30" stroke="#a0a0a0" stroke-width="0.35"/>
<line x1="248.55" y1="111.70" x2="248.55" y2="142.30" stroke="#a0a0a0" stroke-width="0.35"/>
<line x1="256.90" y1="111.70" x2="256.90" y2="142.30" stroke="#a0a0a0" stroke-width="0.35"/>
<line x1="265.25" y1="111.70" x2="265.25" y2="142.30" stroke="#a0a0a0" stroke-width="0.35"/>
<line x1="273.60" y1="111.70" x2="273.60" y2="142.30" stroke="#a0a0a0" stroke-width="0.35"/>
<text x="221.50" y="118.76" font-size="4.9" text-anchor="end" fill="#1a1a1a" textLength="60.38" lengthAdjust="spacingAndGlyphs" stroke="#1a1a1a" stroke-width="0.11">KEGG Chemokine signaling</text>
<text x="221.50" y="128.76" font-size="4.9" text-anchor="end" fill="#1a1a1a" textLength="68.82" lengthAdjust="spacingAndGlyphs" stroke="#1a1a1a" stroke-width="0.11">KEGG IL6-JAK STAT3 signaling</text>
<text x="221.50" y="138.96" font-size="4.9" text-anchor="end" fill="#1a1a1a" textLength="42.93" lengthAdjust="spacingAndGlyphs" stroke="#1a1a1a" stroke-width="0.11">Hallmark OXPHOS</text>
<text x="369.80" y="10.41" font-size="5.3" text-anchor="middle" textLength="22.00" lengthAdjust="spacingAndGlyphs" stroke="#222" stroke-width="0.11">CD8_2.d9</text>
<rect x="347.00" y="11.80" width="8.17" height="9.20" fill="#000"/>
<rect x="355.17" y="11.80" width="8.17" height="9.20" fill="url(#hk)"/>
<rect x="363.33" y="11.80" width="8.17" height="9.20" fill="#e8202a"/>
<rect x="371.50" y="11.80" width="8.17" height="9.20" fill="url(#hr)"/>
<rect x="379.67" y="11.80" width="8.17" height="9.20" fill="#1fae4a"/>
<rect x="387.83" y="11.80" width="8.17" height="9.20" fill="url(#hg)"/>
<rect x="347.00" y="21.30" width="8.17" height="10.15" fill="#fce6e6"/>
<rect x="355.17" y="21.30" width="8.17" height="10.15" fill="#ffffff"/>
<rect x="363.33" y="21.30" width="8.17" height="10.15" fill="#f09090"/>
<rect x="371.50" y="21.30" width="8.17" height="10.15" fill="#ffffff"/>
<rect x="379.67" y="21.30" width="8.17" height="10.15" fill="#f09090"/>
<rect x="387.83" y="21.30" width="8.17" height="10.15" fill="#d4d7ee"/>
<rect x="347.00" y="31.45" width="8.17" height="10.15" fill="#f5b4b4"/>
<rect x="355.17" y="31.45" width="8.17" height="10.15" fill="#f9d0d0"/>
<rect x="363.33" y="31.45" width="8.17" height="10.15" fill="#ffffff"/>
<rect x="371.50" y="31.45" width="8.17" height="10.15" fill="#fce6e6"/>
<rect x="379.67" y="31.45" width="8.17" height="10.15" fill="#f9d0d0"/>
<rect x="387.83" y="31.45" width="8.17" height="10.15" fill="#5662b4"/>
<rect x="347.00" y="41.60" width="8.17" height="10.15" fill="#b0b4de"/>
<rect x="355.17" y="41.60" width="8.17" height="10.15" fill="#f5b4b4"/>
<rect x="363.33" y="41.60" width="8.17" height="10.15" fill="#f9d0d0"/>
<rect x="371.50" y="41.60" width="8.17" height="10.15" fill="#ffffff"/>
<rect x="379.67" y="41.60" width="8.17" height="10.15" fill="#f09090"/>
<rect x="387.83" y="41.60" width="8.17" height="10.15" fill="#fce6e6"/>
<rect x="347.00" y="51.75" width="8.17" height="10.15" fill="#b0b4de"/>
<rect x="355.17" y="51.75" width="8.17" height="10.15" fill="#f5b4b4"/>
<rect x="363.33" y="51.75" width="8.17" height="10.15" fill="#fce6e6"/>
<rect x="371.50" y="51.75" width="8.17" height="10.15" fill="#eceef8"/>
<rect x="379.67" y="51.75" width="8.17" height="10.15" fill="#3050a8"/>
<rect x="387.83" y="51.75" width="8.17" height="10.15" fill="#f9d0d0"/>
<rect x="347.00" y="61.90" width="8.17" height="10.15" fill="#f9d0d0"/>
<rect x="355.17" y="61.90" width="8.17" height="10.15" fill="#f9d0d0"/>
<rect x="363.33" y="61.90" width="8.17" height="10.15" fill="#d4d7ee"/>
<rect x="371.50" y="61.90" width="8.17" height="10.15" fill="#d4d7ee"/>
<rect x="379.67" y="61.90" width="8.17" height="10.15" fill="#f09090"/>
<rect x="387.83" y="61.90" width="8.17" height="10.15" fill="#ffffff"/>
<rect x="347.00" y="72.05" width="8.17" height="10.15" fill="#ffffff"/>
<rect x="355.17" y="72.05" width="8.17" height="10.15" fill="#f9d0d0"/>
<rect x="363.33" y="72.05" width="8.17" height="10.15" fill="#f09090"/>
<rect x="371.50" y="72.05" width="8.17" height="10.15" fill="#ffffff"/>
<rect x="379.67" y="72.05" width="8.17" height="10.15" fill="#f5b4b4"/>
<rect x="387.83" y="72.05" width="8.17" height="10.15" fill="#b0b4de"/>
<line x1="347.00" y1="21.30" x2="396.00" y2="21.30" stroke="#8a8a8a" stroke-width="0.45"/>
<line x1="347.00" y1="31.45" x2="396.00" y2="31.45" stroke="#8a8a8a" stroke-width="0.45"/>
<line x1="347.00" y1="41.60" x2="396.00" y2="41.60" stroke="#8a8a8a" stroke-width="0.45"/>
<line x1="347.00" y1="51.75" x2="396.00" y2="51.75" stroke="#8a8a8a" stroke-width="0.45"/>
<line x1="347.00" y1="61.90" x2="396.00" y2="61.90" stroke="#8a8a8a" stroke-width="0.45"/>
<line x1="347.00" y1="72.05" x2="396.00" y2="72.05" stroke="#8a8a8a" stroke-width="0.45"/>
<line x1="347.00" y1="82.20" x2="396.00" y2="82.20" stroke="#8a8a8a" stroke-width="0.45"/>
<line x1="347.00" y1="21.30" x2="347.00" y2="82.20" stroke="#a0a0a0" stroke-width="0.35"/>
<line x1="355.17" y1="21.30" x2="355.17" y2="82.20" stroke="#a0a0a0" stroke-width="0.35"/>
<line x1="363.33" y1="21.30" x2="363.33" y2="82.20" stroke="#a0a0a0" stroke-width="0.35"/>
<line x1="371.50" y1="21.30" x2="371.50" y2="82.20" stroke="#a0a0a0" stroke-width="0.35"/>
<line x1="379.67" y1="21.30" x2="379.67" y2="82.20" stroke="#a0a0a0" stroke-width="0.35"/>
<line x1="387.83" y1="21.30" x2="387.83" y2="82.20" stroke="#a0a0a0" stroke-width="0.35"/>
<line x1="396.00" y1="21.30" x2="396.00" y2="82.20" stroke="#a0a0a0" stroke-width="0.35"/>
<text x="345.80" y="27.96" font-size="4.9" text-anchor="end" fill="#1a1a1a" textLength="54.16" lengthAdjust="spacingAndGlyphs" stroke="#1a1a1a" stroke-width="0.11">Hallmark IFN&#947; response</text>
<text x="345.80" y="38.56" font-size="4.9" text-anchor="end" fill="#1a1a1a" textLength="64.26" lengthAdjust="spacingAndGlyphs" stroke="#1a1a1a" stroke-width="0.11">Hallmark TNF&#945; sig. via NFKB</text>
<text x="345.80" y="48.76" font-size="4.9" text-anchor="end" fill="#1a1a1a" textLength="42.93" lengthAdjust="spacingAndGlyphs" stroke="#1a1a1a" stroke-width="0.11">Hallmark glycolysis</text>
<text x="345.80" y="58.36" font-size="4.9" text-anchor="end" fill="#1a1a1a" textLength="42.93" lengthAdjust="spacingAndGlyphs" stroke="#1a1a1a" stroke-width="0.11">Hallmark OXPHOS</text>
<text x="345.80" y="67.96" font-size="4.9" text-anchor="end" fill="#1a1a1a" textLength="45.29" lengthAdjust="spacingAndGlyphs" stroke="#1a1a1a" stroke-width="0.11">KEGG IL17 signaling</text>
<text x="345.80" y="78.36" font-size="4.9" text-anchor="end" fill="#1a1a1a" textLength="40.97" lengthAdjust="spacingAndGlyphs" stroke="#1a1a1a" stroke-width="0.11">KEGG Necroptosis</text>
<text x="373.00" y="99.31" font-size="5.3" text-anchor="middle" textLength="16.30" lengthAdjust="spacingAndGlyphs" stroke="#222" stroke-width="0.11">T_6.d9</text>
<rect x="347.20" y="101.00" width="8.13" height="8.80" fill="#000"/>
<rect x="355.33" y="101.00" width="8.13" height="8.80" fill="url(#hk)"/>
<rect x="363.47" y="101.00" width="8.13" height="8.80" fill="#e8202a"/>
<rect x="371.60" y="101.00" width="8.13" height="8.80" fill="url(#hr)"/>
<rect x="379.73" y="101.00" width="8.13" height="8.80" fill="#1fae4a"/>
<rect x="387.87" y="101.00" width="8.13" height="8.80" fill="url(#hg)"/>
<rect x="347.20" y="110.00" width="8.13" height="9.40" fill="#ffffff"/>
<rect x="355.33" y="110.00" width="8.13" height="9.40" fill="#ffffff"/>
<rect x="363.47" y="110.00" width="8.13" height="9.40" fill="#f09090"/>
<rect x="371.60" y="110.00" width="8.13" height="9.40" fill="#f9d0d0"/>
<rect x="379.73" y="110.00" width="8.13" height="9.40" fill="#f9d0d0"/>
<rect x="387.87" y="110.00" width="8.13" height="9.40" fill="#f09090"/>
<rect x="347.20" y="119.40" width="8.13" height="9.40" fill="#fce6e6"/>
<rect x="355.33" y="119.40" width="8.13" height="9.40" fill="#f9d0d0"/>
<rect x="363.47" y="119.40" width="8.13" height="9.40" fill="#b0b4de"/>
<rect x="371.60" y="119.40" width="8.13" height="9.40" fill="#f09090"/>
<rect x="379.73" y="119.40" width="8.13" height="9.40" fill="#fce6e6"/>
<rect x="387.87" y="119.40" width="8.13" height="9.40" fill="#d4d7ee"/>
<rect x="347.20" y="128.80" width="8.13" height="9.40" fill="#8088c8"/>
<rect x="355.33" y="128.80" width="8.13" height="9.40" fill="#b0b4de"/>
<rect x="363.47" y="128.80" width="8.13" height="9.40" fill="#f9d0d0"/>
<rect x="371.60" y="128.80" width="8.13" height="9.40" fill="#fce6e6"/>
<rect x="379.73" y="128.80" width="8.13" height="9.40" fill="#fce6e6"/>
<rect x="387.87" y="128.80" width="8.13" height="9.40" fill="#ffffff"/>
<rect x="347.20" y="138.20" width="8.13" height="9.40" fill="#f9d0d0"/>
<rect x="355.33" y="138.20" width="8.13" height="9.40" fill="#f5b4b4"/>
<rect x="363.47" y="138.20" width="8.13" height="9.40" fill="#b0b4de"/>
<rect x="371.60" y="138.20" width="8.13" height="9.40" fill="#f5b4b4"/>
<rect x="379.73" y="138.20" width="8.13" height="9.40" fill="#d4d7ee"/>
<rect x="387.87" y="138.20" width="8.13" height="9.40" fill="#f5b4b4"/>
<rect x="347.20" y="147.60" width="8.13" height="9.40" fill="#5662b4"/>
<rect x="355.33" y="147.60" width="8.13" height="9.40" fill="#ffffff"/>
<rect x="363.47" y="147.60" width="8.13" height="9.40" fill="#d4d7ee"/>
<rect x="371.60" y="147.60" width="8.13" height="9.40" fill="#f9d0d0"/>
<rect x="379.73" y="147.60" width="8.13" height="9.40" fill="#b0b4de"/>
<rect x="387.87" y="147.60" width="8.13" height="9.40" fill="#fce6e6"/>
<line x1="347.20" y1="110.00" x2="396.00" y2="110.00" stroke="#8a8a8a" stroke-width="0.45"/>
<line x1="347.20" y1="119.40" x2="396.00" y2="119.40" stroke="#8a8a8a" stroke-width="0.45"/>
<line x1="347.20" y1="128.80" x2="396.00" y2="128.80" stroke="#8a8a8a" stroke-width="0.45"/>
<line x1="347.20" y1="138.20" x2="396.00" y2="138.20" stroke="#8a8a8a" stroke-width="0.45"/>
<line x1="347.20" y1="147.60" x2="396.00" y2="147.60" stroke="#8a8a8a" stroke-width="0.45"/>
<line x1="347.20" y1="157.00" x2="396.00" y2="157.00" stroke="#8a8a8a" stroke-width="0.45"/>
<line x1="347.20" y1="110.00" x2="347.20" y2="157.00" stroke="#a0a0a0" stroke-width="0.35"/>
<line x1="355.33" y1="110.00" x2="355.33" y2="157.00" stroke="#a0a0a0" stroke-width="0.35"/>
<line x1="363.47" y1="110.00" x2="363.47" y2="157.00" stroke="#a0a0a0" stroke-width="0.35"/>
<line x1="371.60" y1="110.00" x2="371.60" y2="157.00" stroke="#a0a0a0" stroke-width="0.35"/>
<line x1="379.73" y1="110.00" x2="379.73" y2="157.00" stroke="#a0a0a0" stroke-width="0.35"/>
<line x1="387.87" y1="110.00" x2="387.87" y2="157.00" stroke="#a0a0a0" stroke-width="0.35"/>
<line x1="396.00" y1="110.00" x2="396.00" y2="157.00" stroke="#a0a0a0" stroke-width="0.35"/>
<text x="346.50" y="116.16" font-size="4.9" text-anchor="end" fill="#1a1a1a" textLength="66.32" lengthAdjust="spacingAndGlyphs" stroke="#1a1a1a" stroke-width="0.11">Hallmark IL2-STAT5 signaling</text>
<text x="346.50" y="125.76" font-size="4.9" text-anchor="end" fill="#1a1a1a" textLength="42.93" lengthAdjust="spacingAndGlyphs" stroke="#1a1a1a" stroke-width="0.11">Hallmark OXPHOS</text>
<text x="346.50" y="135.16" font-size="4.9" text-anchor="end" fill="#1a1a1a" textLength="54.55" lengthAdjust="spacingAndGlyphs" stroke="#1a1a1a" stroke-width="0.11">Hallmark IFN&#945; response</text>
<text x="346.50" y="144.46" font-size="4.9" text-anchor="end" fill="#1a1a1a" textLength="50.51" lengthAdjust="spacingAndGlyphs" stroke="#1a1a1a" stroke-width="0.11">Hallmark Inflammatory</text>
<text x="346.50" y="153.96" font-size="4.9" text-anchor="end" fill="#1a1a1a" textLength="53.04" lengthAdjust="spacingAndGlyphs" stroke="#1a1a1a" stroke-width="0.11">Hallmark Kras signaling</text>
<text x="490.70" y="9.11" font-size="5.3" text-anchor="middle" textLength="22.00" lengthAdjust="spacingAndGlyphs" stroke="#222" stroke-width="0.11">CD4_3.d9</text>
<rect x="466.90" y="10.20" width="8.23" height="9.60" fill="#000"/>
<rect x="475.13" y="10.20" width="8.23" height="9.60" fill="url(#hk)"/>
<rect x="483.37" y="10.20" width="8.23" height="9.60" fill="#e8202a"/>
<rect x="491.60" y="10.20" width="8.23" height="9.60" fill="url(#hr)"/>
<rect x="499.83" y="10.20" width="8.23" height="9.60" fill="#1fae4a"/>
<rect x="508.07" y="10.20" width="8.23" height="9.60" fill="url(#hg)"/>
<rect x="466.90" y="21.00" width="8.23" height="9.20" fill="#fce6e6"/>
<rect x="475.13" y="21.00" width="8.23" height="9.20" fill="#b0b4de"/>
<rect x="483.37" y="21.00" width="8.23" height="9.20" fill="#fce6e6"/>
<rect x="491.60" y="21.00" width="8.23" height="9.20" fill="#3050a8"/>
<rect x="499.83" y="21.00" width="8.23" height="9.20" fill="#ffffff"/>
<rect x="508.07" y="21.00" width="8.23" height="9.20" fill="#b0b4de"/>
<rect x="466.90" y="30.20" width="8.23" height="9.20" fill="#d4d7ee"/>
<rect x="475.13" y="30.20" width="8.23" height="9.20" fill="#ffffff"/>
<rect x="483.37" y="30.20" width="8.23" height="9.20" fill="#b0b4de"/>
<rect x="491.60" y="30.20" width="8.23" height="9.20" fill="#ffffff"/>
<rect x="499.83" y="30.20" width="8.23" height="9.20" fill="#fce6e6"/>
<rect x="508.07" y="30.20" width="8.23" height="9.20" fill="#b0b4de"/>
<rect x="466.90" y="39.40" width="8.23" height="9.20" fill="#eceef8"/>
<rect x="475.13" y="39.40" width="8.23" height="9.20" fill="#fce6e6"/>
<rect x="483.37" y="39.40" width="8.23" height="9.20" fill="#f9d0d0"/>
<rect x="491.60" y="39.40" width="8.23" height="9.20" fill="#fce6e6"/>
<rect x="499.83" y="39.40" width="8.23" height="9.20" fill="#fce6e6"/>
<rect x="508.07" y="39.40" width="8.23" height="9.20" fill="#ffffff"/>
<rect x="466.90" y="48.60" width="8.23" height="9.20" fill="#d4d7ee"/>
<rect x="475.13" y="48.60" width="8.23" height="9.20" fill="#b0b4de"/>
<rect x="483.37" y="48.60" width="8.23" height="9.20" fill="#fce6e6"/>
<rect x="491.60" y="48.60" width="8.23" height="9.20" fill="#3050a8"/>
<rect x="499.83" y="48.60" width="8.23" height="9.20" fill="#d4d7ee"/>
<rect x="508.07" y="48.60" width="8.23" height="9.20" fill="#b0b4de"/>
<rect x="466.90" y="57.80" width="8.23" height="9.20" fill="#fce6e6"/>
<rect x="475.13" y="57.80" width="8.23" height="9.20" fill="#ffffff"/>
<rect x="483.37" y="57.80" width="8.23" height="9.20" fill="#b0b4de"/>
<rect x="491.60" y="57.80" width="8.23" height="9.20" fill="#fce6e6"/>
<rect x="499.83" y="57.80" width="8.23" height="9.20" fill="#fce6e6"/>
<rect x="508.07" y="57.80" width="8.23" height="9.20" fill="#f5b4b4"/>
<rect x="466.90" y="67.00" width="8.23" height="9.20" fill="#fce6e6"/>
<rect x="475.13" y="67.00" width="8.23" height="9.20" fill="#b0b4de"/>
<rect x="483.37" y="67.00" width="8.23" height="9.20" fill="#f5b4b4"/>
<rect x="491.60" y="67.00" width="8.23" height="9.20" fill="#3050a8"/>
<rect x="499.83" y="67.00" width="8.23" height="9.20" fill="#ffffff"/>
<rect x="508.07" y="67.00" width="8.23" height="9.20" fill="#3050a8"/>
<rect x="466.90" y="76.20" width="8.23" height="9.20" fill="#d4d7ee"/>
<rect x="475.13" y="76.20" width="8.23" height="9.20" fill="#fce6e6"/>
<rect x="483.37" y="76.20" width="8.23" height="9.20" fill="#ffffff"/>
<rect x="491.60" y="76.20" width="8.23" height="9.20" fill="#8088c8"/>
<rect x="499.83" y="76.20" width="8.23" height="9.20" fill="#e8302a"/>
<rect x="508.07" y="76.20" width="8.23" height="9.20" fill="#fce6e6"/>
<rect x="466.90" y="85.40" width="8.23" height="9.20" fill="#fce6e6"/>
<rect x="475.13" y="85.40" width="8.23" height="9.20" fill="#fce6e6"/>
<rect x="483.37" y="85.40" width="8.23" height="9.20" fill="#f5b4b4"/>
<rect x="491.60" y="85.40" width="8.23" height="9.20" fill="#ffffff"/>
<rect x="499.83" y="85.40" width="8.23" height="9.20" fill="#f09090"/>
<rect x="508.07" y="85.40" width="8.23" height="9.20" fill="#f9d0d0"/>
<rect x="466.90" y="94.60" width="8.23" height="9.20" fill="#b0b4de"/>
<rect x="475.13" y="94.60" width="8.23" height="9.20" fill="#fce6e6"/>
<rect x="483.37" y="94.60" width="8.23" height="9.20" fill="#f9d0d0"/>
<rect x="491.60" y="94.60" width="8.23" height="9.20" fill="#3050a8"/>
<rect x="499.83" y="94.60" width="8.23" height="9.20" fill="#f5b4b4"/>
<rect x="508.07" y="94.60" width="8.23" height="9.20" fill="#fce6e6"/>
<rect x="466.90" y="103.80" width="8.23" height="9.20" fill="#d4d7ee"/>
<rect x="475.13" y="103.80" width="8.23" height="9.20" fill="#fce6e6"/>
<rect x="483.37" y="103.80" width="8.23" height="9.20" fill="#f5b4b4"/>
<rect x="491.60" y="103.80" width="8.23" height="9.20" fill="#eceef8"/>
<rect x="499.83" y="103.80" width="8.23" height="9.20" fill="#b0b4de"/>
<rect x="508.07" y="103.80" width="8.23" height="9.20" fill="#fce6e6"/>
<rect x="466.90" y="113.00" width="8.23" height="9.20" fill="#fce6e6"/>
<rect x="475.13" y="113.00" width="8.23" height="9.20" fill="#f9d0d0"/>
<rect x="483.37" y="113.00" width="8.23" height="9.20" fill="#fce6e6"/>
<rect x="491.60" y="113.00" width="8.23" height="9.20" fill="#d4d7ee"/>
<rect x="499.83" y="113.00" width="8.23" height="9.20" fill="#f5b4b4"/>
<rect x="508.07" y="113.00" width="8.23" height="9.20" fill="#ffffff"/>
<line x1="466.90" y1="21.00" x2="516.30" y2="21.00" stroke="#8a8a8a" stroke-width="0.45"/>
<line x1="466.90" y1="30.20" x2="516.30" y2="30.20" stroke="#8a8a8a" stroke-width="0.45"/>
<line x1="466.90" y1="39.40" x2="516.30" y2="39.40" stroke="#8a8a8a" stroke-width="0.45"/>
<line x1="466.90" y1="48.60" x2="516.30" y2="48.60" stroke="#8a8a8a" stroke-width="0.45"/>
<line x1="466.90" y1="57.80" x2="516.30" y2="57.80" stroke="#8a8a8a" stroke-width="0.45"/>
<line x1="466.90" y1="67.00" x2="516.30" y2="67.00" stroke="#8a8a8a" stroke-width="0.45"/>
<line x1="466.90" y1="76.20" x2="516.30" y2="76.20" stroke="#8a8a8a" stroke-width="0.45"/>
<line x1="466.90" y1="85.40" x2="516.30" y2="85.40" stroke="#8a8a8a" stroke-width="0.45"/>
<line x1="466.90" y1="94.60" x2="516.30" y2="94.60" stroke="#8a8a8a" stroke-width="0.45"/>
<line x1="466.90" y1="103.80" x2="516.30" y2="103.80" stroke="#8a8a8a" stroke-width="0.45"/>
<line x1="466.90" y1="113.00" x2="516.30" y2="113.00" stroke="#8a8a8a" stroke-width="0.45"/>
<line x1="466.90" y1="122.20" x2="516.30" y2="122.20" stroke="#8a8a8a" stroke-width="0.45"/>
<line x1="466.90" y1="21.00" x2="466.90" y2="122.20" stroke="#a0a0a0" stroke-width="0.35"/>
<line x1="475.13" y1="21.00" x2="475.13" y2="122.20" stroke="#a0a0a0" stroke-width="0.35"/>
<line x1="483.37" y1="21.00" x2="483.37" y2="122.20" stroke="#a0a0a0" stroke-width="0.35"/>
<line x1="491.60" y1="21.00" x2="491.60" y2="122.20" stroke="#a0a0a0" stroke-width="0.35"/>
<line x1="499.83" y1="21.00" x2="499.83" y2="122.20" stroke="#a0a0a0" stroke-width="0.35"/>
<line x1="508.07" y1="21.00" x2="508.07" y2="122.20" stroke="#a0a0a0" stroke-width="0.35"/>
<line x1="516.30" y1="21.00" x2="516.30" y2="122.20" stroke="#a0a0a0" stroke-width="0.35"/>
<text x="465.60" y="27.96" font-size="4.9" text-anchor="end" fill="#1a1a1a" textLength="39.57" lengthAdjust="spacingAndGlyphs" stroke="#1a1a1a" stroke-width="0.11">Hallmark Hypoxia</text>
<text x="465.60" y="36.96" font-size="4.9" text-anchor="end" fill="#1a1a1a" textLength="54.16" lengthAdjust="spacingAndGlyphs" stroke="#1a1a1a" stroke-width="0.11">Hallmark IFN&#947; response</text>
<text x="465.60" y="45.96" font-size="4.9" text-anchor="end" fill="#1a1a1a" textLength="64.26" lengthAdjust="spacingAndGlyphs" stroke="#1a1a1a" stroke-width="0.11">Hallmark TNF&#945; sig. via NFKB</text>
<text x="465.60" y="55.16" font-size="4.9" text-anchor="end" fill="#1a1a1a" textLength="47.14" lengthAdjust="spacingAndGlyphs" stroke="#1a1a1a" stroke-width="0.11">Reactome Glycolysis</text>
<text x="465.60" y="64.66" font-size="4.9" text-anchor="end" fill="#1a1a1a" textLength="33.70" lengthAdjust="spacingAndGlyphs" stroke="#1a1a1a" stroke-width="0.11">KEGG OXPHOS</text>
<text x="465.60" y="74.06" font-size="4.9" text-anchor="end" fill="#1a1a1a" textLength="45.29" lengthAdjust="spacingAndGlyphs" stroke="#1a1a1a" stroke-width="0.11">KEGG IL17 signaling</text>
<text x="465.60" y="83.56" font-size="4.9" text-anchor="end" fill="#1a1a1a" textLength="53.37" lengthAdjust="spacingAndGlyphs" stroke="#1a1a1a" stroke-width="0.11">KEGG Calcium signaling</text>
<text x="465.60" y="92.76" font-size="4.9" text-anchor="end" fill="#1a1a1a" textLength="50.04" lengthAdjust="spacingAndGlyphs" stroke="#1a1a1a" stroke-width="0.11">KEGG mTOR signaling</text>
<text x="465.60" y="101.96" font-size="4.9" text-anchor="end" fill="#1a1a1a" textLength="49.59" lengthAdjust="spacingAndGlyphs" stroke="#1a1a1a" stroke-width="0.11">KEGG NF-&#954;B signaling</text>
<text x="465.60" y="111.36" font-size="4.9" text-anchor="end" fill="#1a1a1a" textLength="47.71" lengthAdjust="spacingAndGlyphs" stroke="#1a1a1a" stroke-width="0.11">KEGG FoxO signaling</text>
<text x="465.60" y="120.56" font-size="4.9" text-anchor="end" fill="#1a1a1a" textLength="57.90" lengthAdjust="spacingAndGlyphs" stroke="#1a1a1a" stroke-width="0.11">Hallmark IFN-&#945; response</text>
<text x="247.40" y="157.05" font-size="5.7" text-anchor="middle" fill="#333" textLength="29.30" lengthAdjust="spacingAndGlyphs" stroke="#333" stroke-width="0.11">Enrichment</text>
<rect x="209.60" y="158.60" width="68.10" height="4.20" fill="url(#enr)"/>
<text x="211.00" y="168.73" font-size="4.8" text-anchor="middle" stroke="#222" stroke-width="0.11">&#8722;2</text>
<text x="236.70" y="168.73" font-size="4.8" text-anchor="middle" stroke="#222" stroke-width="0.11">0</text>
<text x="261.40" y="168.73" font-size="4.8" text-anchor="middle" stroke="#222" stroke-width="0.11">2</text>
<rect x="455.60" y="126.60" width="61.80" height="51.30" fill="#fff" stroke="#222" stroke-width="0.8"/>
<rect x="507.60" y="128.20" width="7.60" height="6.60" fill="#000"/>
<text x="505.20" y="133.26" font-size="4.9" text-anchor="end" textLength="47.50" lengthAdjust="spacingAndGlyphs" stroke="#222" stroke-width="0.11">Control mAb <tspan font-style="italic">Bhlhe40</tspan><tspan font-size="2.6" dy="-1.3">+/+</tspan></text>
<rect x="507.60" y="136.10" width="7.60" height="6.60" fill="url(#hk)"/>
<text x="505.20" y="141.16" font-size="4.9" text-anchor="end" textLength="47.50" lengthAdjust="spacingAndGlyphs" stroke="#222" stroke-width="0.11">Control mAb <tspan font-style="italic">Bhlhe40</tspan><tspan font-size="2.6" dy="-1.3">&#8722;/&#8722;</tspan></text>
<rect x="507.60" y="144.00" width="7.60" height="6.60" fill="#e8202a"/>
<text x="505.20" y="149.06" font-size="4.9" text-anchor="end" textLength="35.40" lengthAdjust="spacingAndGlyphs" stroke="#222" stroke-width="0.11">&#945;-PD-1 <tspan font-style="italic">Bhlhe40</tspan><tspan font-size="2.6" dy="-1.3">+/+</tspan></text>
<rect x="507.60" y="151.90" width="7.60" height="6.60" fill="url(#hr)"/>
<text x="505.20" y="156.96" font-size="4.9" text-anchor="end" textLength="35.40" lengthAdjust="spacingAndGlyphs" stroke="#222" stroke-width="0.11">&#945;-PD-1 <tspan font-style="italic">Bhlhe40</tspan><tspan font-size="2.6" dy="-1.3">&#8722;/&#8722;</tspan></text>
<rect x="507.60" y="159.80" width="7.60" height="6.60" fill="#1fae4a"/>
<text x="505.20" y="164.86" font-size="4.9" text-anchor="end" textLength="40.80" lengthAdjust="spacingAndGlyphs" stroke="#222" stroke-width="0.11">&#945;-CTLA-4 <tspan font-style="italic">Bhlhe40</tspan><tspan font-size="2.6" dy="-1.3">+/+</tspan></text>
<rect x="507.60" y="167.70" width="7.60" height="6.60" fill="url(#hg)"/>
<text x="505.20" y="172.76" font-size="4.9" text-anchor="end" textLength="40.80" lengthAdjust="spacingAndGlyphs" stroke="#222" stroke-width="0.11">&#945;-CTLA-4 <tspan font-style="italic">Bhlhe40</tspan><tspan font-size="2.6" dy="-1.3">&#8722;/&#8722;</tspan></text>
<text x="3.10" y="200.60" font-size="12.5" fill="#000" font-weight="bold">C</text>
<text x="73.45" y="205.93" font-size="4.8" text-anchor="middle" textLength="20.00" lengthAdjust="spacingAndGlyphs" stroke="#222" stroke-width="0.11">CD8_1.d9</text>
<rect x="52.00" y="208.10" width="6.75" height="6.30" fill="#000"/>
<rect x="58.75" y="208.10" width="6.75" height="6.30" fill="url(#hk)"/>
<rect x="65.50" y="208.10" width="6.75" height="6.30" fill="#e8202a"/>
<rect x="72.25" y="208.10" width="6.75" height="6.30" fill="url(#hr)"/>
<rect x="79.00" y="208.10" width="6.75" height="6.30" fill="#1fae4a"/>
<rect x="85.75" y="208.10" width="6.75" height="6.30" fill="url(#hg)"/>
<rect x="52.00" y="215.00" width="6.75" height="8.90" fill="#2b62ae"/>
<rect x="58.75" y="215.00" width="6.75" height="8.90" fill="#d9604a"/>
<rect x="65.50" y="215.00" width="6.75" height="8.90" fill="#f8c0a0"/>
<rect x="72.25" y="215.00" width="6.75" height="8.90" fill="#f8b898"/>
<rect x="79.00" y="215.00" width="6.75" height="8.90" fill="#1f4e9a"/>
<rect x="85.75" y="215.00" width="6.75" height="8.90" fill="#fad8c8"/>
<rect x="52.00" y="223.90" width="6.75" height="9.10" fill="#2060aa"/>
<rect x="58.75" y="223.90" width="6.75" height="9.10" fill="#b82030"/>
<rect x="65.50" y="223.90" width="6.75" height="9.10" fill="#eef3f6"/>
<rect x="72.25" y="223.90" width="6.75" height="9.10" fill="#d84838"/>
<rect x="79.00" y="223.90" width="6.75" height="9.10" fill="#2057a0"/>
<rect x="85.75" y="223.90" width="6.75" height="9.10" fill="#fbe2d2"/>
<rect x="52.00" y="233.00" width="6.75" height="9.00" fill="#6fa8d8"/>
<rect x="58.75" y="233.00" width="6.75" height="9.00" fill="#c0282e"/>
<rect x="65.50" y="233.00" width="6.75" height="9.00" fill="#f8c4a8"/>
<rect x="72.25" y="233.00" width="6.75" height="9.00" fill="#fbdcc8"/>
<rect x="79.00" y="233.00" width="6.75" height="9.00" fill="#3c80c0"/>
<rect x="85.75" y="233.00" width="6.75" height="9.00" fill="#a8d0e8"/>
<text x="51.20" y="221.03" font-size="4.95" text-anchor="end" fill="#1a1a1a" textLength="34.00" lengthAdjust="spacingAndGlyphs" stroke="#1a1a1a" stroke-width="0.11">RhoA Signaling</text>
<text x="51.20" y="227.63" font-size="4.95" text-anchor="end" fill="#1a1a1a" textLength="44.00" lengthAdjust="spacingAndGlyphs" stroke="#1a1a1a" stroke-width="0.11">Regulation of actin-</text>
<text x="51.20" y="232.83" font-size="4.95" text-anchor="end" fill="#1a1a1a" textLength="51.00" lengthAdjust="spacingAndGlyphs" stroke="#1a1a1a" stroke-width="0.11">Based motility by Rho</text>
<text x="51.20" y="237.28" font-size="4.95" text-anchor="end" fill="#1a1a1a" textLength="38.00" lengthAdjust="spacingAndGlyphs" stroke="#1a1a1a" stroke-width="0.11">Signaling by Rho</text>
<text x="51.20" y="242.08" font-size="4.95" text-anchor="end" fill="#1a1a1a" textLength="35.00" lengthAdjust="spacingAndGlyphs" stroke="#1a1a1a" stroke-width="0.11">Family GTPases</text>
<text x="73.45" y="249.33" font-size="4.8" text-anchor="middle" textLength="20.00" lengthAdjust="spacingAndGlyphs" stroke="#222" stroke-width="0.11">CD4_3.d9</text>
<rect x="52.00" y="251.30" width="6.75" height="6.30" fill="#000"/>
<rect x="58.75" y="251.30" width="6.75" height="6.30" fill="url(#hk)"/>
<rect x="65.50" y="251.30" width="6.75" height="6.30" fill="#e8202a"/>
<rect x="72.25" y="251.30" width="6.75" height="6.30" fill="url(#hr)"/>
<rect x="79.00" y="251.30" width="6.75" height="6.30" fill="#1fae4a"/>
<rect x="85.75" y="251.30" width="6.75" height="6.30" fill="url(#hg)"/>
<rect x="52.00" y="258.20" width="6.75" height="9.30" fill="#90c0e0"/>
<rect x="58.75" y="258.20" width="6.75" height="9.30" fill="#f4a888"/>
<rect x="65.50" y="258.20" width="6.75" height="9.30" fill="#1a3a80"/>
<rect x="72.25" y="258.20" width="6.75" height="9.30" fill="#a8d0ec"/>
<rect x="79.00" y="258.20" width="6.75" height="9.30" fill="#8cc0e0"/>
<rect x="85.75" y="258.20" width="6.75" height="9.30" fill="#d86850"/>
<rect x="52.00" y="267.50" width="6.75" height="8.70" fill="#d8eaf4"/>
<rect x="58.75" y="267.50" width="6.75" height="8.70" fill="#f4f4f4"/>
<rect x="65.50" y="267.50" width="6.75" height="8.70" fill="#1a3e80"/>
<rect x="72.25" y="267.50" width="6.75" height="8.70" fill="#b0d4ec"/>
<rect x="79.00" y="267.50" width="6.75" height="8.70" fill="#c0dcf0"/>
<rect x="85.75" y="267.50" width="6.75" height="8.70" fill="#c02030"/>
<rect x="52.00" y="276.20" width="6.75" height="9.00" fill="#f8d4c0"/>
<rect x="58.75" y="276.20" width="6.75" height="9.00" fill="#b8d8ec"/>
<rect x="65.50" y="276.20" width="6.75" height="9.00" fill="#2870b8"/>
<rect x="72.25" y="276.20" width="6.75" height="9.00" fill="#88bce0"/>
<rect x="79.00" y="276.20" width="6.75" height="9.00" fill="#f4f4f4"/>
<rect x="85.75" y="276.20" width="6.75" height="9.00" fill="#c0282e"/>
<text x="51.20" y="264.43" font-size="4.95" text-anchor="end" fill="#1a1a1a" textLength="34.00" lengthAdjust="spacingAndGlyphs" stroke="#1a1a1a" stroke-width="0.11">RhoA Signaling</text>
<text x="51.20" y="271.03" font-size="4.95" text-anchor="end" fill="#1a1a1a" textLength="44.00" lengthAdjust="spacingAndGlyphs" stroke="#1a1a1a" stroke-width="0.11">Regulation of actin-</text>
<text x="51.20" y="276.23" font-size="4.95" text-anchor="end" fill="#1a1a1a" textLength="51.00" lengthAdjust="spacingAndGlyphs" stroke="#1a1a1a" stroke-width="0.11">Based motility by Rho</text>
<text x="51.20" y="280.48" font-size="4.95" text-anchor="end" fill="#1a1a1a" textLength="38.00" lengthAdjust="spacingAndGlyphs" stroke="#1a1a1a" stroke-width="0.11">Signaling by Rho</text>
<text x="51.20" y="285.28" font-size="4.95" text-anchor="end" fill="#1a1a1a" textLength="35.00" lengthAdjust="spacingAndGlyphs" stroke="#1a1a1a" stroke-width="0.11">Family GTPases</text>
<text x="73.45" y="291.33" font-size="4.8" text-anchor="middle" textLength="30.00" lengthAdjust="spacingAndGlyphs" stroke="#222" stroke-width="0.11">Mki67<tspan font-size="3" dy="-1.5">hi</tspan><tspan dy="1.5">_5.d9</tspan></text>
<rect x="52.00" y="293.30" width="6.75" height="6.30" fill="#000"/>
<rect x="58.75" y="293.30" width="6.75" height="6.30" fill="url(#hk)"/>
<rect x="65.50" y="293.30" width="6.75" height="6.30" fill="#e8202a"/>
<rect x="72.25" y="293.30" width="6.75" height="6.30" fill="url(#hr)"/>
<rect x="79.00" y="293.30" width="6.75" height="6.30" fill="#1fae4a"/>
<rect x="85.75" y="293.30" width="6.75" height="6.30" fill="url(#hg)"/>
<rect x="52.00" y="300.20" width="6.75" height="9.20" fill="#2a6ab0"/>
<rect x="58.75" y="300.20" width="6.75" height="9.20" fill="#f4f4f4"/>
<rect x="65.50" y="300.20" width="6.75" height="9.20" fill="#2a70b8"/>
<rect x="72.25" y="300.20" width="6.75" height="9.20" fill="#c85848"/>
<rect x="79.00" y="300.20" width="6.75" height="9.20" fill="#2a68b0"/>
<rect x="85.75" y="300.20" width="6.75" height="9.20" fill="#f4b898"/>
<rect x="52.00" y="309.40" width="6.75" height="8.80" fill="#1a3a80"/>
<rect x="58.75" y="309.40" width="6.75" height="8.80" fill="#f4f4f4"/>
<rect x="65.50" y="309.40" width="6.75" height="8.80" fill="#2a6cb4"/>
<rect x="72.25" y="309.40" width="6.75" height="8.80" fill="#500818"/>
<rect x="79.00" y="309.40" width="6.75" height="8.80" fill="#1a3070"/>
<rect x="85.75" y="309.40" width="6.75" height="8.80" fill="#d86048"/>
<rect x="52.00" y="318.20" width="6.75" height="9.00" fill="#2060ac"/>
<rect x="58.75" y="318.20" width="6.75" height="9.00" fill="#e0eef8"/>
<rect x="65.50" y="318.20" width="6.75" height="9.00" fill="#d8eaf4"/>
<rect x="72.25" y="318.20" width="6.75" height="9.00" fill="#e05850"/>
<rect x="79.00" y="318.20" width="6.75" height="9.00" fill="#2868b0"/>
<rect x="85.75" y="318.20" width="6.75" height="9.00" fill="#f8f0ec"/>
<text x="51.20" y="306.38" font-size="4.95" text-anchor="end" fill="#1a1a1a" textLength="34.00" lengthAdjust="spacingAndGlyphs" stroke="#1a1a1a" stroke-width="0.11">RhoA Signaling</text>
<text x="51.20" y="312.98" font-size="4.95" text-anchor="end" fill="#1a1a1a" textLength="44.00" lengthAdjust="spacingAndGlyphs" stroke="#1a1a1a" stroke-width="0.11">Regulation of actin-</text>
<text x="51.20" y="318.18" font-size="4.95" text-anchor="end" fill="#1a1a1a" textLength="51.00" lengthAdjust="spacingAndGlyphs" stroke="#1a1a1a" stroke-width="0.11">Based motility by Rho</text>
<text x="51.20" y="322.48" font-size="4.95" text-anchor="end" fill="#1a1a1a" textLength="38.00" lengthAdjust="spacingAndGlyphs" stroke="#1a1a1a" stroke-width="0.11">Signaling by Rho</text>
<text x="51.20" y="327.28" font-size="4.95" text-anchor="end" fill="#1a1a1a" textLength="35.00" lengthAdjust="spacingAndGlyphs" stroke="#1a1a1a" stroke-width="0.11">Family GTPases</text>
<text x="0.00" y="339.70" font-size="5.0" fill="#1a1a1a" textLength="40.50" lengthAdjust="spacingAndGlyphs" stroke="#1a1a1a" stroke-width="0.11">Activation <tspan font-style="italic">z</tspan>-score</text>
<rect x="1.50" y="342.70" width="6.20" height="37.90" fill="url(#zsc)"/>
<text x="10.60" y="346.40" font-size="5.0" fill="#333" stroke="#333" stroke-width="0.11">4</text>
<text x="10.60" y="351.60" font-size="5.0" fill="#333" stroke="#333" stroke-width="0.11">3</text>
<text x="10.60" y="357.40" font-size="5.0" fill="#333" stroke="#333" stroke-width="0.11">2</text>
<text x="10.60" y="367.80" font-size="5.0" fill="#333" stroke="#333" stroke-width="0.11">0</text>
<text x="10.60" y="373.30" font-size="5.0" fill="#333" stroke="#333" stroke-width="0.11">&#8722;1</text>
<text x="10.60" y="378.50" font-size="5.0" fill="#333" stroke="#333" stroke-width="0.11">&#8722;2</text>
<rect x="52.30" y="334.40" width="6.92" height="6.80" fill="#000"/>
<rect x="59.22" y="334.40" width="6.92" height="6.80" fill="url(#hk)"/>
<rect x="66.13" y="334.40" width="6.92" height="6.80" fill="#e8202a"/>
<rect x="73.05" y="334.40" width="6.92" height="6.80" fill="url(#hr)"/>
<rect x="79.97" y="334.40" width="6.92" height="6.80" fill="#1fae4a"/>
<rect x="86.88" y="334.40" width="6.92" height="6.80" fill="url(#hg)"/>
<text x="55.76" y="344.78" font-size="4.4" fill="#444" textLength="46.00" lengthAdjust="spacingAndGlyphs" transform="rotate(90 55.76 343.20)" stroke="#444" stroke-width="0.11">Control mAb <tspan font-style="italic">Bhlhe40</tspan><tspan font-size="2.6" dy="-1.3">+/+</tspan></text>
<text x="62.67" y="344.78" font-size="4.4" fill="#444" textLength="46.00" lengthAdjust="spacingAndGlyphs" transform="rotate(90 62.67 343.20)" stroke="#444" stroke-width="0.11">Control mAb <tspan font-style="italic">Bhlhe40</tspan><tspan font-size="2.6" dy="-1.3">&#8722;/&#8722;</tspan></text>
<text x="69.59" y="344.78" font-size="4.4" fill="#444" textLength="33.50" lengthAdjust="spacingAndGlyphs" transform="rotate(90 69.59 343.20)" stroke="#444" stroke-width="0.11">&#945;-PD-1 <tspan font-style="italic">Bhlhe40</tspan><tspan font-size="2.6" dy="-1.3">+/+</tspan></text>
<text x="76.51" y="344.78" font-size="4.4" fill="#444" textLength="33.50" lengthAdjust="spacingAndGlyphs" transform="rotate(90 76.51 343.20)" stroke="#444" stroke-width="0.11">&#945;-PD-1 <tspan font-style="italic">Bhlhe40</tspan><tspan font-size="2.6" dy="-1.3">&#8722;/&#8722;</tspan></text>
<text x="83.42" y="344.78" font-size="4.4" fill="#444" textLength="41.00" lengthAdjust="spacingAndGlyphs" transform="rotate(90 83.42 343.20)" stroke="#444" stroke-width="0.11">&#945;-CTLA-4 <tspan font-style="italic">Bhlhe40</tspan><tspan font-size="2.6" dy="-1.3">+/+</tspan></text>
<text x="90.34" y="344.78" font-size="4.4" fill="#444" textLength="41.00" lengthAdjust="spacingAndGlyphs" transform="rotate(90 90.34 343.20)" stroke="#444" stroke-width="0.11">&#945;-CTLA-4 <tspan font-style="italic">Bhlhe40</tspan><tspan font-size="2.6" dy="-1.3">&#8722;/&#8722;</tspan></text>
<text x="95.90" y="201.00" font-size="12.5" fill="#000" font-weight="bold">D</text>
<text x="173.70" y="199.66" font-size="4.6" text-anchor="middle" stroke="#222" stroke-width="0.11">Day 9</text>
<rect x="129.40" y="201.30" width="97.30" height="4.50" fill="#000"/>
<rect x="229.20" y="201.30" width="4.80" height="4.50" fill="#000"/>
<text x="128.00" y="205.28" font-size="4.8" text-anchor="end" fill="#e0505e" font-weight="bold" font-style="italic">Bhlhe40</text>
<rect x="129.40" y="207.02" width="79.10" height="3.90" fill="#a0a0a0" stroke="#2a2a2a" stroke-width="0.6"/>
<text x="128.00" y="210.70" font-size="4.8" text-anchor="end" fill="#e0505e" font-style="italic" stroke="#e0505e" stroke-width="0.03">Rbpj</text>
<rect x="129.40" y="212.44" width="71.40" height="3.90" fill="#a0a0a0" stroke="#2a2a2a" stroke-width="0.6"/>
<text x="128.00" y="216.12" font-size="4.8" text-anchor="end" fill="#e0505e" font-style="italic" stroke="#e0505e" stroke-width="0.03">Ifng</text>
<rect x="129.40" y="217.86" width="69.40" height="3.90" fill="#a0a0a0" stroke="#2a2a2a" stroke-width="0.6"/>
<text x="128.00" y="221.54" font-size="4.8" text-anchor="end" fill="#e0505e" font-style="italic" stroke="#e0505e" stroke-width="0.03">Nr4a3</text>
<rect x="129.40" y="223.28" width="66.20" height="3.90" fill="#a0a0a0" stroke="#2a2a2a" stroke-width="0.6"/>
<text x="128.00" y="226.96" font-size="4.8" text-anchor="end" fill="#e0505e" font-style="italic" stroke="#e0505e" stroke-width="0.03">Rgs16</text>
<rect x="129.40" y="228.70" width="64.10" height="3.90" fill="#a0a0a0" stroke="#2a2a2a" stroke-width="0.6"/>
<text x="128.00" y="232.38" font-size="4.8" text-anchor="end" fill="#e0505e" font-style="italic" stroke="#e0505e" stroke-width="0.03">Furin</text>
<rect x="129.40" y="234.12" width="62.10" height="3.90" fill="#a0a0a0" stroke="#2a2a2a" stroke-width="0.6"/>
<text x="128.00" y="237.80" font-size="4.8" text-anchor="end" fill="#1a1a1a" font-style="italic" stroke="#1a1a1a" stroke-width="0.03">Cxcr6</text>
<rect x="129.40" y="239.54" width="60.30" height="3.90" fill="#a0a0a0" stroke="#2a2a2a" stroke-width="0.6"/>
<text x="128.00" y="243.22" font-size="4.8" text-anchor="end" fill="#e0505e" font-style="italic" stroke="#e0505e" stroke-width="0.03">Tnfaip3</text>
<rect x="129.40" y="244.96" width="58.80" height="3.90" fill="#a0a0a0" stroke="#2a2a2a" stroke-width="0.6"/>
<text x="128.00" y="248.64" font-size="4.8" text-anchor="end" fill="#1a1a1a" font-style="italic" stroke="#1a1a1a" stroke-width="0.03">Rel</text>
<rect x="129.40" y="250.38" width="57.50" height="3.90" fill="#a0a0a0" stroke="#2a2a2a" stroke-width="0.6"/>
<text x="128.00" y="254.06" font-size="4.8" text-anchor="end" fill="#e0505e" font-style="italic" stroke="#e0505e" stroke-width="0.03">Serpinb6a</text>
<rect x="129.40" y="255.80" width="57.10" height="3.90" fill="#a0a0a0" stroke="#2a2a2a" stroke-width="0.6"/>
<text x="128.00" y="259.48" font-size="4.8" text-anchor="end" fill="#e0505e" font-style="italic" stroke="#e0505e" stroke-width="0.03">Serpinb6b</text>
<rect x="129.40" y="261.22" width="56.80" height="3.90" fill="#a0a0a0" stroke="#2a2a2a" stroke-width="0.6"/>
<text x="128.00" y="264.90" font-size="4.8" text-anchor="end" fill="#1a1a1a" font-style="italic" stroke="#1a1a1a" stroke-width="0.03">Lag3</text>
<rect x="129.40" y="266.64" width="57.00" height="3.90" fill="#a0a0a0" stroke="#2a2a2a" stroke-width="0.6"/>
<text x="128.00" y="270.32" font-size="4.8" text-anchor="end" fill="#1a1a1a" font-style="italic" stroke="#1a1a1a" stroke-width="0.03">Irf4</text>
<rect x="129.40" y="272.06" width="53.60" height="3.90" fill="#a0a0a0" stroke="#2a2a2a" stroke-width="0.6"/>
<text x="128.00" y="275.74" font-size="4.8" text-anchor="end" fill="#1a1a1a" font-style="italic" stroke="#1a1a1a" stroke-width="0.03">Ccl3</text>
<rect x="129.40" y="277.48" width="52.20" height="3.90" fill="#a0a0a0" stroke="#2a2a2a" stroke-width="0.6"/>
<text x="128.00" y="281.16" font-size="4.8" text-anchor="end" fill="#1a1a1a" font-style="italic" stroke="#1a1a1a" stroke-width="0.03">Gm36723</text>
<rect x="129.40" y="282.90" width="52.00" height="3.90" fill="#a0a0a0" stroke="#2a2a2a" stroke-width="0.6"/>
<text x="128.00" y="286.58" font-size="4.8" text-anchor="end" fill="#e0505e" font-style="italic" stroke="#e0505e" stroke-width="0.03">Bcl2a1a</text>
<rect x="129.40" y="288.32" width="51.20" height="3.90" fill="#a0a0a0" stroke="#2a2a2a" stroke-width="0.6"/>
<text x="128.00" y="292.00" font-size="4.8" text-anchor="end" fill="#1a1a1a" font-style="italic" stroke="#1a1a1a" stroke-width="0.03">Ptpn</text>
<rect x="129.40" y="293.74" width="48.40" height="3.90" fill="#a0a0a0" stroke="#2a2a2a" stroke-width="0.6"/>
<text x="128.00" y="297.42" font-size="4.8" text-anchor="end" fill="#1a1a1a" font-style="italic" stroke="#1a1a1a" stroke-width="0.03">Ccl1</text>
<rect x="129.40" y="299.16" width="48.20" height="3.90" fill="#a0a0a0" stroke="#2a2a2a" stroke-width="0.6"/>
<text x="128.00" y="302.84" font-size="4.8" text-anchor="end" fill="#1a1a1a" font-style="italic" stroke="#1a1a1a" stroke-width="0.03">Tnfrsf9</text>
<rect x="129.40" y="304.58" width="48.20" height="3.90" fill="#a0a0a0" stroke="#2a2a2a" stroke-width="0.6"/>
<text x="128.00" y="308.26" font-size="4.8" text-anchor="end" fill="#1a1a1a" font-style="italic" stroke="#1a1a1a" stroke-width="0.03">Havcr2</text>
<rect x="129.40" y="310.00" width="48.00" height="3.90" fill="#a0a0a0" stroke="#2a2a2a" stroke-width="0.6"/>
<text x="128.00" y="313.68" font-size="4.8" text-anchor="end" fill="#1a1a1a" font-style="italic" stroke="#1a1a1a" stroke-width="0.03">Egr3</text>
<rect x="129.40" y="315.42" width="48.00" height="3.90" fill="#a0a0a0" stroke="#2a2a2a" stroke-width="0.6"/>
<text x="128.00" y="319.10" font-size="4.8" text-anchor="end" fill="#e0505e" font-style="italic" stroke="#e0505e" stroke-width="0.03">Nr4a1</text>
<rect x="129.40" y="320.84" width="48.10" height="3.90" fill="#a0a0a0" stroke="#2a2a2a" stroke-width="0.6"/>
<text x="128.00" y="324.52" font-size="4.8" text-anchor="end" fill="#1a1a1a" font-style="italic" stroke="#1a1a1a" stroke-width="0.03">Ccl4</text>
<rect x="129.40" y="326.26" width="48.10" height="3.90" fill="#a0a0a0" stroke="#2a2a2a" stroke-width="0.6"/>
<text x="128.00" y="329.94" font-size="4.8" text-anchor="end" fill="#e0505e" font-style="italic" stroke="#e0505e" stroke-width="0.03">Bcl2a1d</text>
<rect x="129.40" y="331.68" width="48.10" height="3.90" fill="#a0a0a0" stroke="#2a2a2a" stroke-width="0.6"/>
<text x="128.00" y="335.36" font-size="4.8" text-anchor="end" fill="#1a1a1a" font-style="italic" stroke="#1a1a1a" stroke-width="0.03">Plek</text>
<rect x="129.40" y="337.10" width="46.60" height="3.90" fill="#a0a0a0" stroke="#2a2a2a" stroke-width="0.6"/>
<text x="128.00" y="340.78" font-size="4.8" text-anchor="end" fill="#1a1a1a" font-style="italic" stroke="#1a1a1a" stroke-width="0.03">Gzmc</text>
<rect x="129.40" y="342.52" width="45.90" height="3.90" fill="#a0a0a0" stroke="#2a2a2a" stroke-width="0.6"/>
<text x="128.00" y="346.20" font-size="4.8" text-anchor="end" fill="#1a1a1a" font-style="italic" stroke="#1a1a1a" stroke-width="0.03">Pgk1</text>
<rect x="129.40" y="347.94" width="45.60" height="3.90" fill="#a0a0a0" stroke="#2a2a2a" stroke-width="0.6"/>
<text x="128.00" y="351.62" font-size="4.8" text-anchor="end" fill="#e0505e" font-style="italic" stroke="#e0505e" stroke-width="0.03">Eno1</text>
<rect x="129.40" y="353.36" width="44.40" height="3.90" fill="#a0a0a0" stroke="#2a2a2a" stroke-width="0.6"/>
<text x="128.00" y="357.04" font-size="4.8" text-anchor="end" fill="#1a1a1a" font-style="italic" stroke="#1a1a1a" stroke-width="0.03">Sema6d</text>
<rect x="129.40" y="358.78" width="44.00" height="3.90" fill="#a0a0a0" stroke="#2a2a2a" stroke-width="0.6"/>
<text x="128.00" y="362.46" font-size="4.8" text-anchor="end" fill="#1a1a1a" font-style="italic" stroke="#1a1a1a" stroke-width="0.03">Klrc1</text>
<rect x="129.40" y="364.20" width="44.00" height="3.90" fill="#a0a0a0" stroke="#2a2a2a" stroke-width="0.6"/>
<text x="128.00" y="367.88" font-size="4.8" text-anchor="end" fill="#e0505e" font-style="italic" stroke="#e0505e" stroke-width="0.03">Il2ra</text>
<rect x="129.40" y="369.62" width="43.70" height="3.90" fill="#a0a0a0" stroke="#2a2a2a" stroke-width="0.6"/>
<text x="128.00" y="373.30" font-size="4.8" text-anchor="end" fill="#1a1a1a" font-style="italic" stroke="#1a1a1a" stroke-width="0.03">Fosl2</text>
<rect x="129.40" y="375.04" width="43.40" height="3.90" fill="#a0a0a0" stroke="#2a2a2a" stroke-width="0.6"/>
<text x="128.00" y="378.72" font-size="4.8" text-anchor="end" fill="#e0505e" font-style="italic" stroke="#e0505e" stroke-width="0.03">Csf1</text>
<rect x="129.40" y="380.46" width="42.40" height="3.90" fill="#a0a0a0" stroke="#2a2a2a" stroke-width="0.6"/>
<text x="128.00" y="384.14" font-size="4.8" text-anchor="end" fill="#1a1a1a" font-style="italic" stroke="#1a1a1a" stroke-width="0.03">Ifitm1</text>
<rect x="129.40" y="385.88" width="41.30" height="3.90" fill="#a0a0a0" stroke="#2a2a2a" stroke-width="0.6"/>
<text x="128.00" y="389.56" font-size="4.8" text-anchor="end" fill="#1a1a1a" font-style="italic" stroke="#1a1a1a" stroke-width="0.03">Il12rb2</text>
<rect x="129.40" y="391.30" width="40.90" height="3.90" fill="#a0a0a0" stroke="#2a2a2a" stroke-width="0.6"/>
<text x="128.00" y="394.98" font-size="4.8" text-anchor="end" fill="#1a1a1a" font-style="italic" stroke="#1a1a1a" stroke-width="0.03">Ero1l</text>
<rect x="129.40" y="396.72" width="40.90" height="3.90" fill="#a0a0a0" stroke="#2a2a2a" stroke-width="0.6"/>
<text x="128.00" y="400.40" font-size="4.8" text-anchor="end" fill="#1a1a1a" font-style="italic" stroke="#1a1a1a" stroke-width="0.03">Sdf4</text>
<rect x="129.40" y="402.14" width="40.50" height="3.90" fill="#a0a0a0" stroke="#2a2a2a" stroke-width="0.6"/>
<text x="128.00" y="405.82" font-size="4.8" text-anchor="end" fill="#e0505e" font-style="italic" stroke="#e0505e" stroke-width="0.03">AA467197</text>
<rect x="129.40" y="407.56" width="40.40" height="3.90" fill="#a0a0a0" stroke="#2a2a2a" stroke-width="0.6"/>
<text x="128.00" y="411.24" font-size="4.8" text-anchor="end" fill="#1a1a1a" font-style="italic" stroke="#1a1a1a" stroke-width="0.03">Orai1</text>
<rect x="129.40" y="412.98" width="40.10" height="3.90" fill="#a0a0a0" stroke="#2a2a2a" stroke-width="0.6"/>
<text x="128.00" y="416.66" font-size="4.8" text-anchor="end" fill="#e0505e" font-style="italic" stroke="#e0505e" stroke-width="0.03">Tnfsf11</text>
<rect x="129.40" y="418.40" width="39.70" height="3.90" fill="#a0a0a0" stroke="#2a2a2a" stroke-width="0.6"/>
<text x="128.00" y="422.08" font-size="4.8" text-anchor="end" fill="#1a1a1a" font-style="italic" stroke="#1a1a1a" stroke-width="0.03">Anxa2</text>
<rect x="129.40" y="423.82" width="39.70" height="3.90" fill="#a0a0a0" stroke="#2a2a2a" stroke-width="0.6"/>
<text x="128.00" y="427.50" font-size="4.8" text-anchor="end" fill="#e0505e" font-style="italic" stroke="#e0505e" stroke-width="0.03">Gadd45b</text>
<rect x="129.40" y="429.24" width="39.40" height="3.90" fill="#a0a0a0" stroke="#2a2a2a" stroke-width="0.6"/>
<text x="128.00" y="432.92" font-size="4.8" text-anchor="end" fill="#1a1a1a" font-style="italic" stroke="#1a1a1a" stroke-width="0.03">Serpinb9b</text>
<rect x="129.40" y="434.66" width="39.30" height="3.90" fill="#a0a0a0" stroke="#2a2a2a" stroke-width="0.6"/>
<text x="128.00" y="438.34" font-size="4.8" text-anchor="end" fill="#e0505e" font-style="italic" stroke="#e0505e" stroke-width="0.03">Kdm6b</text>
<rect x="129.40" y="440.08" width="38.50" height="3.90" fill="#a0a0a0" stroke="#2a2a2a" stroke-width="0.6"/>
<text x="128.00" y="443.76" font-size="4.8" text-anchor="end" fill="#e0505e" font-style="italic" stroke="#e0505e" stroke-width="0.03">Rgs1</text>
<rect x="129.40" y="445.50" width="38.10" height="3.90" fill="#a0a0a0" stroke="#2a2a2a" stroke-width="0.6"/>
<text x="128.00" y="449.18" font-size="4.8" text-anchor="end" fill="#1a1a1a" font-style="italic" stroke="#1a1a1a" stroke-width="0.03">Nr4a2</text>
<line x1="129.40" y1="200.80" x2="129.40" y2="451.90" stroke="#000" stroke-width="0.7"/>
<line x1="129.40" y1="451.90" x2="226.40" y2="451.90" stroke="#000" stroke-width="0.6"/>
<line x1="229.20" y1="451.90" x2="234.40" y2="451.90" stroke="#000" stroke-width="0.6"/>
<line x1="226.70" y1="450.60" x2="227.50" y2="452.50" stroke="#000" stroke-width="0.5"/>
<line x1="228.40" y1="450.60" x2="229.20" y2="452.50" stroke="#000" stroke-width="0.5"/>
<line x1="129.40" y1="451.90" x2="129.40" y2="453.30" stroke="#000" stroke-width="0.5"/>
<text x="129.40" y="458.86" font-size="4.9" text-anchor="middle" stroke="#222" stroke-width="0.16">0</text>
<line x1="148.80" y1="451.90" x2="148.80" y2="453.30" stroke="#000" stroke-width="0.5"/>
<text x="148.80" y="458.86" font-size="4.9" text-anchor="middle" stroke="#222" stroke-width="0.16">0.05</text>
<line x1="168.20" y1="451.90" x2="168.20" y2="453.30" stroke="#000" stroke-width="0.5"/>
<text x="168.20" y="458.86" font-size="4.9" text-anchor="middle" stroke="#222" stroke-width="0.16">0.10</text>
<line x1="187.60" y1="451.90" x2="187.60" y2="453.30" stroke="#000" stroke-width="0.5"/>
<text x="187.60" y="458.86" font-size="4.9" text-anchor="middle" stroke="#222" stroke-width="0.16">0.15</text>
<line x1="207.00" y1="451.90" x2="207.00" y2="453.30" stroke="#000" stroke-width="0.5"/>
<text x="207.00" y="458.86" font-size="4.9" text-anchor="middle" stroke="#222" stroke-width="0.16">0.20</text>
<line x1="226.40" y1="451.90" x2="226.40" y2="453.30" stroke="#000" stroke-width="0.5"/>
<text x="223.80" y="458.86" font-size="4.9" text-anchor="middle" stroke="#222" stroke-width="0.16">0.25</text>
<line x1="234.40" y1="451.90" x2="234.40" y2="453.30" stroke="#000" stroke-width="0.5"/>
<text x="235.80" y="458.86" font-size="4.9" text-anchor="middle" stroke="#222" stroke-width="0.16">1.0</text>
<text x="302.40" y="198.66" font-size="4.6" text-anchor="middle" stroke="#222" stroke-width="0.11">Day 11</text>
<rect x="261.60" y="201.20" width="98.10" height="5.20" fill="#000"/>
<rect x="362.00" y="201.20" width="5.30" height="5.20" fill="#000"/>
<text x="260.20" y="205.71" font-size="5.3" text-anchor="end" fill="#e0505e" font-weight="bold" font-style="italic">Bhlhe40</text>
<rect x="261.60" y="208.42" width="77.10" height="4.60" fill="#a0a0a0" stroke="#2a2a2a" stroke-width="0.6"/>
<text x="260.20" y="212.63" font-size="5.3" text-anchor="end" fill="#e0505e" font-style="italic" stroke="#e0505e" stroke-width="0.03">Tnfaip3</text>
<rect x="261.60" y="215.34" width="63.40" height="4.60" fill="#a0a0a0" stroke="#2a2a2a" stroke-width="0.6"/>
<text x="260.20" y="219.55" font-size="5.3" text-anchor="end" fill="#e0505e" font-style="italic" stroke="#e0505e" stroke-width="0.03">Dusp2</text>
<rect x="261.60" y="222.26" width="62.20" height="4.60" fill="#a0a0a0" stroke="#2a2a2a" stroke-width="0.6"/>
<text x="260.20" y="226.47" font-size="5.3" text-anchor="end" fill="#e0505e" font-style="italic" stroke="#e0505e" stroke-width="0.03">Eno1</text>
<rect x="261.60" y="229.18" width="60.10" height="4.60" fill="#a0a0a0" stroke="#2a2a2a" stroke-width="0.6"/>
<text x="260.20" y="233.39" font-size="5.3" text-anchor="end" fill="#1a1a1a" font-style="italic" stroke="#1a1a1a" stroke-width="0.03">Ybx3</text>
<rect x="261.60" y="236.10" width="59.10" height="4.60" fill="#a0a0a0" stroke="#2a2a2a" stroke-width="0.6"/>
<text x="260.20" y="240.31" font-size="5.3" text-anchor="end" fill="#1a1a1a" font-style="italic" stroke="#1a1a1a" stroke-width="0.03">Gapdh</text>
<rect x="261.60" y="243.02" width="58.60" height="4.60" fill="#a0a0a0" stroke="#2a2a2a" stroke-width="0.6"/>
<text x="260.20" y="247.23" font-size="5.3" text-anchor="end" fill="#e0505e" font-style="italic" stroke="#e0505e" stroke-width="0.03">Furin</text>
<rect x="261.60" y="249.94" width="58.00" height="4.60" fill="#a0a0a0" stroke="#2a2a2a" stroke-width="0.6"/>
<text x="260.20" y="254.15" font-size="5.3" text-anchor="end" fill="#e0505e" font-style="italic" stroke="#e0505e" stroke-width="0.03">Ifng</text>
<rect x="261.60" y="256.86" width="57.60" height="4.60" fill="#a0a0a0" stroke="#2a2a2a" stroke-width="0.6"/>
<text x="260.20" y="261.07" font-size="5.3" text-anchor="end" fill="#e0505e" font-style="italic" stroke="#e0505e" stroke-width="0.03">Gadd45b</text>
<rect x="261.60" y="263.78" width="57.00" height="4.60" fill="#a0a0a0" stroke="#2a2a2a" stroke-width="0.6"/>
<text x="260.20" y="267.99" font-size="5.3" text-anchor="end" fill="#1a1a1a" font-style="italic" stroke="#1a1a1a" stroke-width="0.03">Dusp5</text>
<rect x="261.60" y="270.70" width="54.90" height="4.60" fill="#a0a0a0" stroke="#2a2a2a" stroke-width="0.6"/>
<text x="260.20" y="274.91" font-size="5.3" text-anchor="end" fill="#e0505e" font-style="italic" stroke="#e0505e" stroke-width="0.03">Csf1</text>
<rect x="261.60" y="277.62" width="53.00" height="4.60" fill="#a0a0a0" stroke="#2a2a2a" stroke-width="0.6"/>
<text x="260.20" y="281.83" font-size="5.3" text-anchor="end" fill="#e0505e" font-style="italic" stroke="#e0505e" stroke-width="0.03">Bcl2a1b</text>
<rect x="261.60" y="284.54" width="52.10" height="4.60" fill="#a0a0a0" stroke="#2a2a2a" stroke-width="0.6"/>
<text x="260.20" y="288.75" font-size="5.3" text-anchor="end" fill="#e0505e" font-style="italic" stroke="#e0505e" stroke-width="0.03">Nr4a1</text>
<rect x="261.60" y="291.46" width="51.30" height="4.60" fill="#a0a0a0" stroke="#2a2a2a" stroke-width="0.6"/>
<text x="260.20" y="295.67" font-size="5.3" text-anchor="end" fill="#1a1a1a" font-style="italic" stroke="#1a1a1a" stroke-width="0.03">Rora</text>
<rect x="261.60" y="298.38" width="51.00" height="4.60" fill="#a0a0a0" stroke="#2a2a2a" stroke-width="0.6"/>
<text x="260.20" y="302.59" font-size="5.3" text-anchor="end" fill="#e0505e" font-style="italic" stroke="#e0505e" stroke-width="0.03">Bcl2a1d</text>
<rect x="261.60" y="305.30" width="50.80" height="4.60" fill="#a0a0a0" stroke="#2a2a2a" stroke-width="0.6"/>
<text x="260.20" y="309.51" font-size="5.3" text-anchor="end" fill="#e0505e" font-style="italic" stroke="#e0505e" stroke-width="0.03">Nr4a3</text>
<rect x="261.60" y="312.22" width="48.10" height="4.60" fill="#a0a0a0" stroke="#2a2a2a" stroke-width="0.6"/>
<text x="260.20" y="316.43" font-size="5.3" text-anchor="end" fill="#e0505e" font-style="italic" stroke="#e0505e" stroke-width="0.03">Serpinb6b</text>
<rect x="261.60" y="319.14" width="47.90" height="4.60" fill="#a0a0a0" stroke="#2a2a2a" stroke-width="0.6"/>
<text x="260.20" y="323.35" font-size="5.3" text-anchor="end" fill="#1a1a1a" font-style="italic" stroke="#1a1a1a" stroke-width="0.03">Junb</text>
<rect x="261.60" y="326.06" width="47.10" height="4.60" fill="#a0a0a0" stroke="#2a2a2a" stroke-width="0.6"/>
<text x="260.20" y="330.27" font-size="5.3" text-anchor="end" fill="#e0505e" font-style="italic" stroke="#e0505e" stroke-width="0.03">Ifitm2</text>
<rect x="261.60" y="332.98" width="46.80" height="4.60" fill="#a0a0a0" stroke="#2a2a2a" stroke-width="0.6"/>
<text x="260.20" y="337.19" font-size="5.3" text-anchor="end" fill="#e0505e" font-style="italic" stroke="#e0505e" stroke-width="0.03">Rbpj</text>
<rect x="261.60" y="339.90" width="46.40" height="4.60" fill="#a0a0a0" stroke="#2a2a2a" stroke-width="0.6"/>
<text x="260.20" y="344.11" font-size="5.3" text-anchor="end" fill="#e0505e" font-style="italic" stroke="#e0505e" stroke-width="0.03">Serpinb9</text>
<rect x="261.60" y="346.82" width="46.30" height="4.60" fill="#a0a0a0" stroke="#2a2a2a" stroke-width="0.6"/>
<text x="260.20" y="351.03" font-size="5.3" text-anchor="end" fill="#e0505e" font-style="italic" stroke="#e0505e" stroke-width="0.03">Rgs1</text>
<rect x="261.60" y="353.74" width="46.00" height="4.60" fill="#a0a0a0" stroke="#2a2a2a" stroke-width="0.6"/>
<text x="260.20" y="357.95" font-size="5.3" text-anchor="end" fill="#1a1a1a" font-style="italic" stroke="#1a1a1a" stroke-width="0.03">Csf2</text>
<rect x="261.60" y="360.66" width="45.90" height="4.60" fill="#a0a0a0" stroke="#2a2a2a" stroke-width="0.6"/>
<text x="260.20" y="364.87" font-size="5.3" text-anchor="end" fill="#1a1a1a" font-style="italic" stroke="#1a1a1a" stroke-width="0.03">Hilpda</text>
<rect x="261.60" y="367.58" width="45.90" height="4.60" fill="#a0a0a0" stroke="#2a2a2a" stroke-width="0.6"/>
<text x="260.20" y="371.79" font-size="5.3" text-anchor="end" fill="#1a1a1a" font-style="italic" stroke="#1a1a1a" stroke-width="0.03">S100a4</text>
<rect x="261.60" y="374.50" width="44.70" height="4.60" fill="#a0a0a0" stroke="#2a2a2a" stroke-width="0.6"/>
<text x="260.20" y="378.71" font-size="5.3" text-anchor="end" fill="#e0505e" font-style="italic" stroke="#e0505e" stroke-width="0.03">Rgs16</text>
<rect x="261.60" y="381.42" width="44.10" height="4.60" fill="#a0a0a0" stroke="#2a2a2a" stroke-width="0.6"/>
<text x="260.20" y="385.63" font-size="5.3" text-anchor="end" fill="#e0505e" font-style="italic" stroke="#e0505e" stroke-width="0.03">Kdm6b</text>
<rect x="261.60" y="388.34" width="44.10" height="4.60" fill="#a0a0a0" stroke="#2a2a2a" stroke-width="0.6"/>
<text x="260.20" y="392.55" font-size="5.3" text-anchor="end" fill="#e0505e" font-style="italic" stroke="#e0505e" stroke-width="0.03">Tnfsf11</text>
<rect x="261.60" y="395.26" width="42.50" height="4.60" fill="#a0a0a0" stroke="#2a2a2a" stroke-width="0.6"/>
<text x="260.20" y="399.47" font-size="5.3" text-anchor="end" fill="#1a1a1a" font-style="italic" stroke="#1a1a1a" stroke-width="0.03">Cd40lg</text>
<rect x="261.60" y="402.18" width="41.60" height="4.60" fill="#a0a0a0" stroke="#2a2a2a" stroke-width="0.6"/>
<text x="260.20" y="406.39" font-size="5.3" text-anchor="end" fill="#e0505e" font-style="italic" stroke="#e0505e" stroke-width="0.03">AA467197</text>
<rect x="261.60" y="409.10" width="41.20" height="4.60" fill="#a0a0a0" stroke="#2a2a2a" stroke-width="0.6"/>
<text x="260.20" y="413.31" font-size="5.3" text-anchor="end" fill="#1a1a1a" font-style="italic" stroke="#1a1a1a" stroke-width="0.03">Nfkbia</text>
<rect x="261.60" y="416.02" width="40.70" height="4.60" fill="#a0a0a0" stroke="#2a2a2a" stroke-width="0.6"/>
<text x="260.20" y="420.23" font-size="5.3" text-anchor="end" fill="#1a1a1a" font-style="italic" stroke="#1a1a1a" stroke-width="0.03">Lilr4b</text>
<rect x="261.60" y="422.94" width="40.50" height="4.60" fill="#a0a0a0" stroke="#2a2a2a" stroke-width="0.6"/>
<text x="260.20" y="427.15" font-size="5.3" text-anchor="end" fill="#1a1a1a" font-style="italic" stroke="#1a1a1a" stroke-width="0.03">Dgat1</text>
<rect x="261.60" y="429.86" width="40.30" height="4.60" fill="#a0a0a0" stroke="#2a2a2a" stroke-width="0.6"/>
<text x="260.20" y="434.07" font-size="5.3" text-anchor="end" fill="#1a1a1a" font-style="italic" stroke="#1a1a1a" stroke-width="0.03">Pim3</text>
<rect x="261.60" y="436.78" width="40.10" height="4.60" fill="#a0a0a0" stroke="#2a2a2a" stroke-width="0.6"/>
<text x="260.20" y="440.99" font-size="5.3" text-anchor="end" fill="#1a1a1a" font-style="italic" stroke="#1a1a1a" stroke-width="0.03">Gzmb</text>
<rect x="261.60" y="443.70" width="39.20" height="4.60" fill="#a0a0a0" stroke="#2a2a2a" stroke-width="0.6"/>
<text x="260.20" y="447.91" font-size="5.3" text-anchor="end" fill="#1a1a1a" font-style="italic" stroke="#1a1a1a" stroke-width="0.03">Plac8</text>
<line x1="261.60" y1="200.70" x2="261.60" y2="452.30" stroke="#000" stroke-width="0.7"/>
<line x1="261.60" y1="452.30" x2="360.00" y2="452.30" stroke="#000" stroke-width="0.6"/>
<line x1="362.80" y1="452.30" x2="368.00" y2="452.30" stroke="#000" stroke-width="0.6"/>
<line x1="360.30" y1="451.00" x2="361.10" y2="452.90" stroke="#000" stroke-width="0.5"/>
<line x1="362.00" y1="451.00" x2="362.80" y2="452.90" stroke="#000" stroke-width="0.5"/>
<line x1="261.60" y1="452.30" x2="261.60" y2="453.70" stroke="#000" stroke-width="0.5"/>
<text x="261.60" y="459.26" font-size="4.9" text-anchor="middle" stroke="#222" stroke-width="0.16">0</text>
<line x1="281.30" y1="452.30" x2="281.30" y2="453.70" stroke="#000" stroke-width="0.5"/>
<text x="281.30" y="459.26" font-size="4.9" text-anchor="middle" stroke="#222" stroke-width="0.16">0.05</text>
<line x1="301.00" y1="452.30" x2="301.00" y2="453.70" stroke="#000" stroke-width="0.5"/>
<text x="301.00" y="459.26" font-size="4.9" text-anchor="middle" stroke="#222" stroke-width="0.16">0.10</text>
<line x1="320.70" y1="452.30" x2="320.70" y2="453.70" stroke="#000" stroke-width="0.5"/>
<text x="320.70" y="459.26" font-size="4.9" text-anchor="middle" stroke="#222" stroke-width="0.16">0.15</text>
<line x1="340.40" y1="452.30" x2="340.40" y2="453.70" stroke="#000" stroke-width="0.5"/>
<text x="340.40" y="459.26" font-size="4.9" text-anchor="middle" stroke="#222" stroke-width="0.16">0.20</text>
<line x1="360.00" y1="452.30" x2="360.00" y2="453.70" stroke="#000" stroke-width="0.5"/>
<text x="357.40" y="459.26" font-size="4.9" text-anchor="middle" stroke="#222" stroke-width="0.16">0.25</text>
<line x1="368.00" y1="452.30" x2="368.00" y2="453.70" stroke="#000" stroke-width="0.5"/>
<text x="369.40" y="459.26" font-size="4.9" text-anchor="middle" stroke="#222" stroke-width="0.16">1.0</text>
<text x="186.00" y="468.89" font-size="5.8" text-anchor="middle" fill="#444" font-style="italic" textLength="90.00" lengthAdjust="spacingAndGlyphs" stroke="#444" stroke-width="0.14">Pearson correlation coefficients (r)</text>
<text x="324.00" y="467.59" font-size="5.8" text-anchor="middle" fill="#444" font-style="italic" textLength="90.00" lengthAdjust="spacingAndGlyphs" stroke="#444" stroke-width="0.14">Pearson correlation coefficients (r)</text>
<text x="376.90" y="200.90" font-size="12.5" fill="#000" font-weight="bold">E</text>
<text x="456.40" y="205.10" font-size="5.0" text-anchor="middle" textLength="79.50" lengthAdjust="spacingAndGlyphs" stroke="#222" stroke-width="0.11">IFN&#947; Intracellular cytokine staining</text>
<text x="425.20" y="215.30" font-size="5.0" text-anchor="middle" stroke="#222" stroke-width="0.11">Day 9</text>
<text x="488.40" y="215.30" font-size="5.0" text-anchor="middle" stroke="#222" stroke-width="0.11">Day 11</text>
<line x1="456.50" y1="210.00" x2="456.50" y2="344.00" stroke="#111" stroke-width="0.85" stroke-dasharray="1.7,1.2"/>
<line x1="394.60" y1="225.32" x2="394.60" y2="281.90" stroke="#000" stroke-width="0.7"/>
<line x1="394.60" y1="281.90" x2="517.50" y2="281.90" stroke="#000" stroke-width="0.7"/>
<line x1="393.30" y1="281.90" x2="394.60" y2="281.90" stroke="#000" stroke-width="0.5"/>
<text x="394.00" y="283.77" font-size="5.2" text-anchor="end" fill="#444" stroke="#444" stroke-width="0.11">0</text>
<line x1="393.30" y1="263.04" x2="394.60" y2="263.04" stroke="#000" stroke-width="0.5"/>
<text x="394.00" y="264.91" font-size="5.2" text-anchor="end" fill="#444" stroke="#444" stroke-width="0.11">20</text>
<line x1="393.30" y1="244.18" x2="394.60" y2="244.18" stroke="#000" stroke-width="0.5"/>
<text x="394.00" y="246.05" font-size="5.2" text-anchor="end" fill="#444" stroke="#444" stroke-width="0.11">40</text>
<line x1="393.30" y1="225.32" x2="394.60" y2="225.32" stroke="#000" stroke-width="0.5"/>
<text x="394.00" y="227.19" font-size="5.2" text-anchor="end" fill="#444" stroke="#444" stroke-width="0.11">60</text>
<line x1="400.50" y1="241.82" x2="400.50" y2="244.65" stroke="#000" stroke-width="0.5"/>
<line x1="398.90" y1="241.82" x2="402.10" y2="241.82" stroke="#000000" stroke-width="0.5"/>
<rect x="396.30" y="244.65" width="8.40" height="37.25" fill="#000000"/>
<line x1="410.40" y1="250.78" x2="410.40" y2="256.44" stroke="#6b6b6b" stroke-width="0.5"/>
<line x1="408.80" y1="250.78" x2="412.00" y2="250.78" stroke="#6b6b6b" stroke-width="0.5"/>
<rect x="406.20" y="256.44" width="8.40" height="25.46" fill="#6b6b6b"/>
<line x1="420.30" y1="227.39" x2="420.30" y2="229.28" stroke="#ed1c24" stroke-width="0.5"/>
<line x1="418.70" y1="227.39" x2="421.90" y2="227.39" stroke="#ed1c24" stroke-width="0.5"/>
<rect x="416.10" y="229.28" width="8.40" height="52.62" fill="#ed1c24"/>
<line x1="430.20" y1="248.89" x2="430.20" y2="252.67" stroke="#f07373" stroke-width="0.5"/>
<line x1="428.60" y1="248.89" x2="431.80" y2="248.89" stroke="#f07373" stroke-width="0.5"/>
<rect x="426.00" y="252.67" width="8.40" height="29.23" fill="#f07373"/>
<line x1="440.10" y1="232.86" x2="440.10" y2="235.69" stroke="#2e8b35" stroke-width="0.5"/>
<line x1="438.50" y1="232.86" x2="441.70" y2="232.86" stroke="#2e8b35" stroke-width="0.5"/>
<rect x="435.90" y="235.69" width="8.40" height="46.21" fill="#2e8b35"/>
<line x1="450.00" y1="251.91" x2="450.00" y2="256.16" stroke="#8fbc7c" stroke-width="0.5"/>
<line x1="448.40" y1="251.91" x2="451.60" y2="251.91" stroke="#8fbc7c" stroke-width="0.5"/>
<rect x="445.80" y="256.16" width="8.40" height="25.74" fill="#8fbc7c"/>
<line x1="462.90" y1="247.95" x2="462.90" y2="253.61" stroke="#000" stroke-width="0.5"/>
<line x1="461.30" y1="247.95" x2="464.50" y2="247.95" stroke="#000000" stroke-width="0.5"/>
<rect x="458.70" y="253.61" width="8.40" height="28.29" fill="#000000"/>
<line x1="472.90" y1="251.72" x2="472.90" y2="260.21" stroke="#6b6b6b" stroke-width="0.5"/>
<line x1="471.30" y1="251.72" x2="474.50" y2="251.72" stroke="#6b6b6b" stroke-width="0.5"/>
<rect x="468.70" y="260.21" width="8.40" height="21.69" fill="#6b6b6b"/>
<line x1="482.60" y1="224.85" x2="482.60" y2="229.56" stroke="#ed1c24" stroke-width="0.5"/>
<line x1="481.00" y1="224.85" x2="484.20" y2="224.85" stroke="#ed1c24" stroke-width="0.5"/>
<rect x="478.40" y="229.56" width="8.40" height="52.34" fill="#ed1c24"/>
<line x1="492.50" y1="243.24" x2="492.50" y2="249.84" stroke="#f07373" stroke-width="0.5"/>
<line x1="490.90" y1="243.24" x2="494.10" y2="243.24" stroke="#f07373" stroke-width="0.5"/>
<rect x="488.30" y="249.84" width="8.40" height="32.06" fill="#f07373"/>
<line x1="502.30" y1="228.62" x2="502.30" y2="232.39" stroke="#2e8b35" stroke-width="0.5"/>
<line x1="500.70" y1="228.62" x2="503.90" y2="228.62" stroke="#2e8b35" stroke-width="0.5"/>
<rect x="498.10" y="232.39" width="8.40" height="49.51" fill="#2e8b35"/>
<line x1="512.30" y1="247.48" x2="512.30" y2="253.14" stroke="#8fbc7c" stroke-width="0.5"/>
<line x1="510.70" y1="247.48" x2="513.90" y2="247.48" stroke="#8fbc7c" stroke-width="0.5"/>
<rect x="508.10" y="253.14" width="8.40" height="28.76" fill="#8fbc7c"/>
<line x1="394.60" y1="287.20" x2="394.60" y2="343.60" stroke="#000" stroke-width="0.7"/>
<line x1="394.60" y1="343.60" x2="517.50" y2="343.60" stroke="#000" stroke-width="0.7"/>
<line x1="393.30" y1="343.60" x2="394.60" y2="343.60" stroke="#000" stroke-width="0.5"/>
<text x="394.00" y="345.47" font-size="5.2" text-anchor="end" fill="#444" stroke="#444" stroke-width="0.11">0</text>
<line x1="393.30" y1="329.50" x2="394.60" y2="329.50" stroke="#000" stroke-width="0.5"/>
<text x="394.00" y="331.37" font-size="5.2" text-anchor="end" fill="#444" stroke="#444" stroke-width="0.11">10</text>
<line x1="393.30" y1="315.40" x2="394.60" y2="315.40" stroke="#000" stroke-width="0.5"/>
<text x="394.00" y="317.27" font-size="5.2" text-anchor="end" fill="#444" stroke="#444" stroke-width="0.11">20</text>
<line x1="393.30" y1="301.30" x2="394.60" y2="301.30" stroke="#000" stroke-width="0.5"/>
<text x="394.00" y="303.17" font-size="5.2" text-anchor="end" fill="#444" stroke="#444" stroke-width="0.11">30</text>
<line x1="393.30" y1="287.20" x2="394.60" y2="287.20" stroke="#000" stroke-width="0.5"/>
<text x="394.00" y="289.07" font-size="5.2" text-anchor="end" fill="#444" stroke="#444" stroke-width="0.11">40</text>
<line x1="400.50" y1="327.10" x2="400.50" y2="327.81" stroke="#000" stroke-width="0.5"/>
<line x1="398.90" y1="327.10" x2="402.10" y2="327.10" stroke="#000000" stroke-width="0.5"/>
<rect x="396.30" y="327.81" width="8.40" height="15.79" fill="#000000"/>
<line x1="410.40" y1="331.47" x2="410.40" y2="332.60" stroke="#6b6b6b" stroke-width="0.5"/>
<line x1="408.80" y1="331.47" x2="412.00" y2="331.47" stroke="#6b6b6b" stroke-width="0.5"/>
<rect x="406.20" y="332.60" width="8.40" height="11.00" fill="#6b6b6b"/>
<line x1="420.30" y1="325.83" x2="420.30" y2="327.24" stroke="#ed1c24" stroke-width="0.5"/>
<line x1="418.70" y1="325.83" x2="421.90" y2="325.83" stroke="#ed1c24" stroke-width="0.5"/>
<rect x="416.10" y="327.24" width="8.40" height="16.36" fill="#ed1c24"/>
<line x1="430.20" y1="331.05" x2="430.20" y2="331.90" stroke="#f07373" stroke-width="0.5"/>
<line x1="428.60" y1="331.05" x2="431.80" y2="331.05" stroke="#f07373" stroke-width="0.5"/>
<rect x="426.00" y="331.90" width="8.40" height="11.70" fill="#f07373"/>
<line x1="440.10" y1="319.07" x2="440.10" y2="319.77" stroke="#2e8b35" stroke-width="0.5"/>
<line x1="438.50" y1="319.07" x2="441.70" y2="319.07" stroke="#2e8b35" stroke-width="0.5"/>
<rect x="435.90" y="319.77" width="8.40" height="23.83" fill="#2e8b35"/>
<line x1="450.00" y1="329.78" x2="450.00" y2="330.63" stroke="#8fbc7c" stroke-width="0.5"/>
<line x1="448.40" y1="329.78" x2="451.60" y2="329.78" stroke="#8fbc7c" stroke-width="0.5"/>
<rect x="445.80" y="330.63" width="8.40" height="12.97" fill="#8fbc7c"/>
<line x1="462.90" y1="324.28" x2="462.90" y2="325.13" stroke="#000" stroke-width="0.5"/>
<line x1="461.30" y1="324.28" x2="464.50" y2="324.28" stroke="#000000" stroke-width="0.5"/>
<rect x="458.70" y="325.13" width="8.40" height="18.47" fill="#000000"/>
<line x1="472.90" y1="323.44" x2="472.90" y2="325.13" stroke="#6b6b6b" stroke-width="0.5"/>
<line x1="471.30" y1="323.44" x2="474.50" y2="323.44" stroke="#6b6b6b" stroke-width="0.5"/>
<rect x="468.70" y="325.13" width="8.40" height="18.47" fill="#6b6b6b"/>
<line x1="482.60" y1="319.91" x2="482.60" y2="320.76" stroke="#ed1c24" stroke-width="0.5"/>
<line x1="481.00" y1="319.91" x2="484.20" y2="319.91" stroke="#ed1c24" stroke-width="0.5"/>
<rect x="478.40" y="320.76" width="8.40" height="22.84" fill="#ed1c24"/>
<line x1="492.50" y1="323.44" x2="492.50" y2="325.69" stroke="#f07373" stroke-width="0.5"/>
<line x1="490.90" y1="323.44" x2="494.10" y2="323.44" stroke="#f07373" stroke-width="0.5"/>
<rect x="488.30" y="325.69" width="8.40" height="17.91" fill="#f07373"/>
<line x1="502.30" y1="291.43" x2="502.30" y2="294.25" stroke="#2e8b35" stroke-width="0.5"/>
<line x1="500.70" y1="291.43" x2="503.90" y2="291.43" stroke="#2e8b35" stroke-width="0.5"/>
<rect x="498.10" y="294.25" width="8.40" height="49.35" fill="#2e8b35"/>
<line x1="512.30" y1="306.80" x2="512.30" y2="312.86" stroke="#8fbc7c" stroke-width="0.5"/>
<line x1="510.70" y1="306.80" x2="513.90" y2="306.80" stroke="#8fbc7c" stroke-width="0.5"/>
<rect x="508.10" y="312.86" width="8.40" height="30.74" fill="#8fbc7c"/>
<text x="378.30" y="253.23" font-size="4.8" text-anchor="middle" textLength="38.50" lengthAdjust="spacingAndGlyphs" transform="rotate(-90 378.30 251.50)" stroke="#222" stroke-width="0.11">IFN&#947;<tspan font-size="2.8" dy="-1.4">+</tspan><tspan dy="1.4"> CD8</tspan><tspan font-size="2.8" dy="-1.4">+</tspan><tspan dy="1.4"> T cells</tspan></text>
<text x="384.00" y="253.63" font-size="4.8" text-anchor="middle" textLength="25.70" lengthAdjust="spacingAndGlyphs" transform="rotate(-90 384.00 251.90)" stroke="#222" stroke-width="0.11">(% of CD8<tspan font-size="2.8" dy="-1.4">+</tspan><tspan dy="1.4">)</tspan></text>
<text x="378.30" y="313.73" font-size="4.8" text-anchor="middle" textLength="38.50" lengthAdjust="spacingAndGlyphs" transform="rotate(-90 378.30 312.00)" stroke="#222" stroke-width="0.11">IFN&#947;<tspan font-size="2.8" dy="-1.4">+</tspan><tspan dy="1.4"> CD4</tspan><tspan font-size="2.8" dy="-1.4">+</tspan><tspan dy="1.4"> T cells</tspan></text>
<text x="384.00" y="314.03" font-size="4.8" text-anchor="middle" textLength="25.70" lengthAdjust="spacingAndGlyphs" transform="rotate(-90 384.00 312.30)" stroke="#222" stroke-width="0.11">(% of CD4<tspan font-size="2.8" dy="-1.4">+</tspan><tspan dy="1.4">)</tspan></text>
<line x1="401.30" y1="220.50" x2="440.60" y2="220.50" stroke="#222" stroke-width="0.6"/>
<text x="423.00" y="223.34" font-size="6.2" text-anchor="middle" fill="#111" font-weight="bold">*</text>
<line x1="401.30" y1="224.50" x2="429.40" y2="224.50" stroke="#222" stroke-width="0.6"/>
<text x="410.60" y="227.34" font-size="6.2" text-anchor="middle" fill="#111" font-weight="bold">**</text>
<text x="425.00" y="227.64" font-size="6.2" text-anchor="middle" fill="#111" font-weight="bold">**</text>
<line x1="400.60" y1="238.50" x2="411.30" y2="238.50" stroke="#222" stroke-width="0.6"/>
<text x="405.60" y="237.97" font-size="5.2" text-anchor="middle" textLength="6.80" lengthAdjust="spacingAndGlyphs" stroke="#222" stroke-width="0.11">NS</text>
<line x1="439.40" y1="230.50" x2="450.60" y2="230.50" stroke="#222" stroke-width="0.6"/>
<text x="445.00" y="233.34" font-size="6.2" text-anchor="middle" fill="#111" font-weight="bold">**</text>
<line x1="461.90" y1="218.50" x2="501.90" y2="218.50" stroke="#222" stroke-width="0.6"/>
<text x="484.00" y="221.34" font-size="6.2" text-anchor="middle" fill="#111" font-weight="bold">*</text>
<line x1="461.90" y1="222.50" x2="491.90" y2="222.50" stroke="#222" stroke-width="0.6"/>
<text x="471.90" y="225.34" font-size="6.2" text-anchor="middle" fill="#111" font-weight="bold">*</text>
<text x="486.50" y="225.24" font-size="6.2" text-anchor="middle" fill="#111" font-weight="bold">*</text>
<line x1="462.50" y1="242.50" x2="471.90" y2="242.50" stroke="#222" stroke-width="0.6"/>
<text x="466.90" y="241.97" font-size="5.2" text-anchor="middle" textLength="6.80" lengthAdjust="spacingAndGlyphs" stroke="#222" stroke-width="0.11">NS</text>
<line x1="501.20" y1="226.50" x2="512.50" y2="226.50" stroke="#222" stroke-width="0.6"/>
<text x="507.20" y="229.34" font-size="6.2" text-anchor="middle" fill="#111" font-weight="bold">*</text>
<line x1="400.00" y1="312.50" x2="439.40" y2="312.50" stroke="#222" stroke-width="0.6"/>
<text x="421.90" y="315.34" font-size="6.2" text-anchor="middle" fill="#111" font-weight="bold">*</text>
<line x1="400.00" y1="319.50" x2="418.80" y2="319.50" stroke="#222" stroke-width="0.6"/>
<text x="410.30" y="318.97" font-size="5.2" text-anchor="middle" textLength="6.80" lengthAdjust="spacingAndGlyphs" stroke="#222" stroke-width="0.11">NS</text>
<line x1="400.00" y1="324.50" x2="410.60" y2="324.50" stroke="#222" stroke-width="0.6"/>
<text x="405.60" y="323.97" font-size="5.2" text-anchor="middle" textLength="6.80" lengthAdjust="spacingAndGlyphs" stroke="#222" stroke-width="0.11">NS</text>
<line x1="420.00" y1="324.50" x2="430.00" y2="324.50" stroke="#222" stroke-width="0.6"/>
<text x="425.00" y="327.34" font-size="6.2" text-anchor="middle" fill="#111" font-weight="bold">*</text>
<line x1="439.40" y1="318.50" x2="450.00" y2="318.50" stroke="#222" stroke-width="0.6"/>
<text x="445.00" y="321.34" font-size="6.2" text-anchor="middle" fill="#111" font-weight="bold">***</text>
<line x1="463.10" y1="288.50" x2="501.90" y2="288.50" stroke="#222" stroke-width="0.6"/>
<text x="484.40" y="291.34" font-size="6.2" text-anchor="middle" fill="#111" font-weight="bold">***</text>
<line x1="501.90" y1="289.50" x2="513.10" y2="289.50" stroke="#222" stroke-width="0.6"/>
<text x="508.75" y="292.34" font-size="6.2" text-anchor="middle" fill="#111" font-weight="bold">*</text>
<line x1="461.90" y1="315.50" x2="480.60" y2="315.50" stroke="#222" stroke-width="0.6"/>
<text x="472.50" y="314.97" font-size="5.2" text-anchor="middle" textLength="6.80" lengthAdjust="spacingAndGlyphs" stroke="#222" stroke-width="0.11">NS</text>
<line x1="461.90" y1="319.50" x2="471.25" y2="319.50" stroke="#222" stroke-width="0.6"/>
<text x="466.90" y="318.97" font-size="5.2" text-anchor="middle" textLength="6.80" lengthAdjust="spacingAndGlyphs" stroke="#222" stroke-width="0.11">NS</text>
<line x1="481.90" y1="318.50" x2="492.50" y2="318.50" stroke="#222" stroke-width="0.6"/>
<text x="487.75" y="317.97" font-size="5.2" text-anchor="middle" textLength="6.80" lengthAdjust="spacingAndGlyphs" stroke="#222" stroke-width="0.11">NS</text>
<text x="399.90" y="349.16" font-size="4.9" text-anchor="end" textLength="51.50" lengthAdjust="spacingAndGlyphs" transform="rotate(-57.6 399.90 347.40)" stroke="#222" stroke-width="0.11">Control mAb <tspan font-style="italic">Bhlhe40</tspan><tspan font-size="2.6" dy="-1.3">+/+</tspan></text>
<text x="409.80" y="349.16" font-size="4.9" text-anchor="end" textLength="51.50" lengthAdjust="spacingAndGlyphs" transform="rotate(-57.6 409.80 347.40)" stroke="#222" stroke-width="0.11">Control mAb <tspan font-style="italic">Bhlhe40</tspan><tspan font-size="2.6" dy="-1.3">&#8722;/&#8722;</tspan></text>
<text x="419.70" y="349.16" font-size="4.9" text-anchor="end" textLength="47.80" lengthAdjust="spacingAndGlyphs" transform="rotate(-57.6 419.70 347.40)" stroke="#222" stroke-width="0.11">Anti&#8211;PD-1 <tspan font-style="italic">Bhlhe40</tspan><tspan font-size="2.6" dy="-1.3">+/+</tspan></text>
<text x="429.60" y="349.16" font-size="4.9" text-anchor="end" textLength="47.80" lengthAdjust="spacingAndGlyphs" transform="rotate(-57.6 429.60 347.40)" stroke="#222" stroke-width="0.11">Anti&#8211;PD-1 <tspan font-style="italic">Bhlhe40</tspan><tspan font-size="2.6" dy="-1.3">&#8722;/&#8722;</tspan></text>
<text x="439.50" y="349.16" font-size="4.9" text-anchor="end" textLength="53.30" lengthAdjust="spacingAndGlyphs" transform="rotate(-57.6 439.50 347.40)" stroke="#222" stroke-width="0.11">Anti&#8211;CTLA-4 <tspan font-style="italic">Bhlhe40</tspan><tspan font-size="2.6" dy="-1.3">+/+</tspan></text>
<text x="449.40" y="349.16" font-size="4.9" text-anchor="end" textLength="53.30" lengthAdjust="spacingAndGlyphs" transform="rotate(-57.6 449.40 347.40)" stroke="#222" stroke-width="0.11">Anti&#8211;CTLA-4 <tspan font-style="italic">Bhlhe40</tspan><tspan font-size="2.6" dy="-1.3">&#8722;/&#8722;</tspan></text>
<text x="462.30" y="349.16" font-size="4.9" text-anchor="end" textLength="51.50" lengthAdjust="spacingAndGlyphs" transform="rotate(-57.6 462.30 347.40)" stroke="#222" stroke-width="0.11">Control mAb <tspan font-style="italic">Bhlhe40</tspan><tspan font-size="2.6" dy="-1.3">+/+</tspan></text>
<text x="472.30" y="349.16" font-size="4.9" text-anchor="end" textLength="51.50" lengthAdjust="spacingAndGlyphs" transform="rotate(-57.6 472.30 347.40)" stroke="#222" stroke-width="0.11">Control mAb <tspan font-style="italic">Bhlhe40</tspan><tspan font-size="2.6" dy="-1.3">&#8722;/&#8722;</tspan></text>
<text x="482.00" y="349.16" font-size="4.9" text-anchor="end" textLength="47.80" lengthAdjust="spacingAndGlyphs" transform="rotate(-57.6 482.00 347.40)" stroke="#222" stroke-width="0.11">Anti&#8211;PD-1 <tspan font-style="italic">Bhlhe40</tspan><tspan font-size="2.6" dy="-1.3">+/+</tspan></text>
<text x="491.90" y="349.16" font-size="4.9" text-anchor="end" textLength="47.80" lengthAdjust="spacingAndGlyphs" transform="rotate(-57.6 491.90 347.40)" stroke="#222" stroke-width="0.11">Anti&#8211;PD-1 <tspan font-style="italic">Bhlhe40</tspan><tspan font-size="2.6" dy="-1.3">&#8722;/&#8722;</tspan></text>
<text x="501.70" y="349.16" font-size="4.9" text-anchor="end" textLength="53.30" lengthAdjust="spacingAndGlyphs" transform="rotate(-57.6 501.70 347.40)" stroke="#222" stroke-width="0.11">Anti&#8211;CTLA-4 <tspan font-style="italic">Bhlhe40</tspan><tspan font-size="2.6" dy="-1.3">+/+</tspan></text>
<text x="511.70" y="349.16" font-size="4.9" text-anchor="end" textLength="53.30" lengthAdjust="spacingAndGlyphs" transform="rotate(-57.6 511.70 347.40)" stroke="#222" stroke-width="0.11">Anti&#8211;CTLA-4 <tspan font-style="italic">Bhlhe40</tspan><tspan font-size="2.6" dy="-1.3">&#8722;/&#8722;</tspan></text>
</svg>
</body></html>
